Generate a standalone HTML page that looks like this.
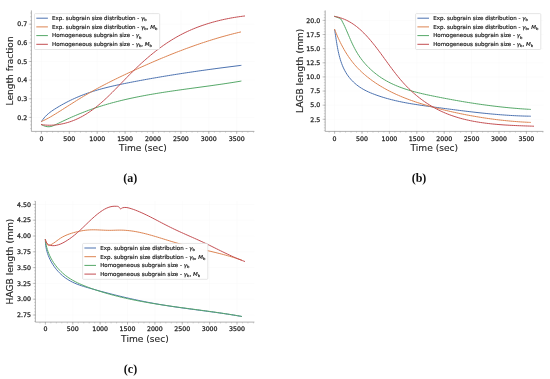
<!DOCTYPE html>
<html lang="en"><head><meta charset="utf-8"><title>Figure</title>
<style>
html,body{margin:0;padding:0;background:#ffffff;}
text{stroke:#262626;stroke-width:0.27px;}
text.lab{stroke-width:0.12px;}
text.leg{stroke-width:0.2px;}
text.cap{stroke:none;}
svg{display:block;font-family:"DejaVu Sans","Liberation Sans",sans-serif;}
</style></head>
<body>
<svg width="550" height="379" viewBox="0 0 550 379">
<rect width="550" height="379" fill="#ffffff"/>
<line x1="41.40" y1="10.4" x2="41.40" y2="131.4" stroke="#f8f8f8" stroke-width="0.5"/>
<line x1="69.30" y1="10.4" x2="69.30" y2="131.4" stroke="#f8f8f8" stroke-width="0.5"/>
<line x1="97.20" y1="10.4" x2="97.20" y2="131.4" stroke="#f8f8f8" stroke-width="0.5"/>
<line x1="125.10" y1="10.4" x2="125.10" y2="131.4" stroke="#f8f8f8" stroke-width="0.5"/>
<line x1="153.00" y1="10.4" x2="153.00" y2="131.4" stroke="#f8f8f8" stroke-width="0.5"/>
<line x1="180.90" y1="10.4" x2="180.90" y2="131.4" stroke="#f8f8f8" stroke-width="0.5"/>
<line x1="208.80" y1="10.4" x2="208.80" y2="131.4" stroke="#f8f8f8" stroke-width="0.5"/>
<line x1="236.70" y1="10.4" x2="236.70" y2="131.4" stroke="#f8f8f8" stroke-width="0.5"/>
<line x1="31.4" y1="24.20" x2="254.4" y2="24.20" stroke="#f8f8f8" stroke-width="0.5"/>
<line x1="31.4" y1="42.84" x2="254.4" y2="42.84" stroke="#f8f8f8" stroke-width="0.5"/>
<line x1="31.4" y1="61.48" x2="254.4" y2="61.48" stroke="#f8f8f8" stroke-width="0.5"/>
<line x1="31.4" y1="80.12" x2="254.4" y2="80.12" stroke="#f8f8f8" stroke-width="0.5"/>
<line x1="31.4" y1="98.76" x2="254.4" y2="98.76" stroke="#f8f8f8" stroke-width="0.5"/>
<line x1="31.4" y1="117.40" x2="254.4" y2="117.40" stroke="#f8f8f8" stroke-width="0.5"/>
<path d="M41.60,121.40 C41.80,121.09 42.41,120.15 42.83,119.56 C43.25,118.98 43.68,118.42 44.13,117.89 C44.57,117.35 45.02,116.84 45.48,116.36 C45.94,115.87 46.42,115.40 46.89,114.95 C47.37,114.50 47.86,114.07 48.36,113.66 C48.86,113.24 49.36,112.84 49.87,112.45 C50.38,112.06 50.90,111.68 51.43,111.31 C51.95,110.94 52.49,110.57 53.03,110.21 C53.56,109.85 54.11,109.50 54.66,109.15 C55.21,108.80 55.76,108.44 56.32,108.10 C56.88,107.75 57.45,107.40 58.02,107.06 C58.59,106.71 59.16,106.37 59.74,106.04 C60.32,105.70 60.91,105.36 61.49,105.03 C62.08,104.70 62.67,104.37 63.27,104.04 C63.86,103.71 64.46,103.39 65.06,103.07 C65.67,102.75 66.27,102.43 66.88,102.12 C67.49,101.80 68.10,101.49 68.72,101.18 C69.33,100.88 69.95,100.57 70.57,100.27 C71.19,99.97 71.81,99.68 72.44,99.38 C73.06,99.09 73.69,98.80 74.31,98.52 C74.94,98.23 75.57,97.95 76.20,97.68 C76.83,97.40 77.47,97.13 78.10,96.86 C78.73,96.59 79.37,96.33 80.00,96.07 C80.64,95.81 81.27,95.56 81.91,95.31 C82.54,95.06 83.18,94.81 83.82,94.57 C84.46,94.33 85.09,94.09 85.73,93.86 C86.37,93.62 87.01,93.39 87.65,93.17 C88.29,92.94 88.93,92.72 89.57,92.51 C90.21,92.29 90.86,92.07 91.50,91.86 C92.14,91.65 92.78,91.45 93.43,91.24 C94.07,91.04 94.71,90.84 95.36,90.65 C96.00,90.45 96.65,90.26 97.29,90.07 C97.94,89.88 98.59,89.69 99.23,89.51 C99.88,89.32 100.53,89.14 101.18,88.96 C101.82,88.78 102.47,88.61 103.12,88.44 C103.77,88.26 104.42,88.09 105.07,87.93 C105.72,87.76 106.37,87.60 107.02,87.43 C107.67,87.27 108.32,87.11 108.97,86.95 C109.63,86.79 110.28,86.64 110.93,86.48 C111.58,86.33 112.24,86.18 112.89,86.03 C113.54,85.88 114.20,85.73 114.85,85.59 C115.51,85.44 116.16,85.30 116.82,85.15 C117.47,85.01 118.13,84.87 118.79,84.73 C119.44,84.59 120.10,84.45 120.76,84.31 C121.41,84.18 122.07,84.04 122.73,83.91 C123.39,83.77 124.05,83.64 124.70,83.50 C125.36,83.37 126.02,83.24 126.68,83.11 C127.34,82.98 128.00,82.85 128.66,82.72 C129.32,82.59 129.98,82.46 130.64,82.33 C131.30,82.20 131.97,82.07 132.63,81.95 C133.29,81.82 133.95,81.69 134.61,81.57 C135.28,81.44 135.94,81.31 136.60,81.19 C137.26,81.06 137.93,80.94 138.59,80.82 C139.26,80.69 139.92,80.57 140.58,80.44 C141.25,80.32 141.91,80.20 142.58,80.08 C143.24,79.96 143.91,79.83 144.57,79.71 C145.24,79.59 145.90,79.47 146.57,79.35 C147.23,79.23 147.90,79.11 148.57,78.99 C149.23,78.87 149.90,78.76 150.57,78.64 C151.23,78.52 151.90,78.40 152.57,78.28 C153.24,78.17 153.90,78.05 154.57,77.94 C155.24,77.82 155.91,77.70 156.58,77.59 C157.24,77.47 157.91,77.36 158.58,77.25 C159.25,77.13 159.92,77.02 160.59,76.90 C161.26,76.79 161.93,76.68 162.59,76.57 C163.26,76.45 163.93,76.34 164.60,76.23 C165.27,76.12 165.94,76.01 166.61,75.90 C167.28,75.79 167.95,75.68 168.62,75.57 C169.29,75.46 169.96,75.35 170.63,75.24 C171.30,75.14 171.98,75.03 172.65,74.92 C173.32,74.81 173.99,74.71 174.66,74.60 C175.33,74.49 176.00,74.39 176.67,74.28 C177.34,74.18 178.01,74.07 178.69,73.97 C179.36,73.86 180.03,73.76 180.70,73.65 C181.37,73.55 182.04,73.45 182.71,73.34 C183.39,73.24 184.06,73.14 184.73,73.04 C185.40,72.93 186.07,72.83 186.74,72.73 C187.42,72.63 188.09,72.53 188.76,72.43 C189.43,72.33 190.10,72.23 190.77,72.13 C191.45,72.03 192.12,71.93 192.79,71.83 C193.46,71.73 194.13,71.63 194.81,71.54 C195.48,71.44 196.15,71.34 196.82,71.24 C197.49,71.15 198.16,71.05 198.84,70.95 C199.51,70.86 200.18,70.76 200.85,70.67 C201.52,70.57 202.19,70.48 202.87,70.38 C203.54,70.29 204.21,70.19 204.88,70.10 C205.55,70.01 206.22,69.91 206.89,69.82 C207.57,69.73 208.24,69.63 208.91,69.54 C209.58,69.45 210.25,69.36 210.92,69.27 C211.59,69.18 212.26,69.08 212.93,68.99 C213.60,68.90 214.27,68.81 214.94,68.72 C215.61,68.63 216.29,68.54 216.96,68.45 C217.63,68.37 218.30,68.28 218.97,68.19 C219.64,68.10 220.30,68.01 220.97,67.92 C221.64,67.84 222.31,67.75 222.98,67.66 C223.65,67.58 224.32,67.49 224.99,67.40 C225.66,67.32 226.33,67.23 227.00,67.15 C227.66,67.06 228.33,66.97 229.00,66.89 C229.67,66.80 230.34,66.72 231.00,66.64 C231.67,66.55 232.34,66.47 233.01,66.38 C233.67,66.30 234.34,66.22 235.01,66.14 C235.67,66.05 236.34,65.97 237.01,65.89 C237.67,65.81 238.34,65.72 239.00,65.64 C239.67,65.56 240.67,65.44 241.00,65.40" fill="none" stroke="#4c72b0" stroke-width="1.0" stroke-linecap="round" stroke-linejoin="round"/>
<path d="M41.60,121.40 C41.90,121.27 42.77,120.91 43.36,120.64 C43.95,120.38 44.53,120.10 45.12,119.81 C45.70,119.53 46.28,119.23 46.87,118.92 C47.45,118.61 48.04,118.29 48.62,117.97 C49.20,117.64 49.78,117.31 50.37,116.97 C50.95,116.64 51.53,116.29 52.11,115.95 C52.69,115.60 53.27,115.25 53.85,114.90 C54.43,114.54 55.02,114.19 55.60,113.83 C56.18,113.48 56.76,113.12 57.34,112.76 C57.92,112.40 58.50,112.03 59.08,111.67 C59.66,111.31 60.23,110.94 60.81,110.58 C61.39,110.21 61.97,109.84 62.55,109.47 C63.13,109.11 63.71,108.74 64.29,108.37 C64.87,108.00 65.45,107.63 66.03,107.26 C66.61,106.89 67.19,106.52 67.77,106.15 C68.35,105.78 68.93,105.40 69.51,105.03 C70.09,104.66 70.67,104.29 71.25,103.92 C71.83,103.56 72.41,103.19 72.99,102.82 C73.57,102.45 74.15,102.08 74.73,101.72 C75.32,101.35 75.90,100.99 76.48,100.62 C77.06,100.26 77.64,99.90 78.23,99.54 C78.81,99.18 79.39,98.82 79.98,98.46 C80.56,98.10 81.14,97.75 81.73,97.40 C82.31,97.04 82.90,96.69 83.48,96.34 C84.07,95.99 84.65,95.65 85.24,95.30 C85.83,94.96 86.41,94.61 87.00,94.27 C87.59,93.93 88.18,93.59 88.77,93.26 C89.35,92.92 89.94,92.58 90.53,92.25 C91.12,91.91 91.71,91.58 92.30,91.25 C92.89,90.92 93.48,90.59 94.07,90.26 C94.66,89.94 95.25,89.61 95.85,89.29 C96.44,88.96 97.03,88.64 97.62,88.32 C98.22,88.00 98.81,87.68 99.40,87.36 C100.00,87.04 100.59,86.73 101.19,86.41 C101.78,86.10 102.38,85.78 102.97,85.47 C103.57,85.16 104.16,84.85 104.76,84.54 C105.36,84.23 105.95,83.92 106.55,83.61 C107.15,83.31 107.75,83.00 108.35,82.70 C108.94,82.39 109.54,82.09 110.14,81.79 C110.74,81.49 111.34,81.18 111.94,80.89 C112.54,80.59 113.14,80.29 113.75,79.99 C114.35,79.69 114.95,79.40 115.55,79.10 C116.15,78.80 116.76,78.51 117.36,78.22 C117.96,77.92 118.57,77.63 119.17,77.34 C119.77,77.05 120.38,76.76 120.98,76.47 C121.59,76.18 122.20,75.89 122.80,75.60 C123.41,75.31 124.01,75.02 124.62,74.74 C125.23,74.45 125.84,74.17 126.44,73.88 C127.05,73.60 127.66,73.31 128.27,73.03 C128.88,72.74 129.49,72.46 130.10,72.18 C130.71,71.90 131.32,71.61 131.93,71.33 C132.54,71.05 133.15,70.77 133.77,70.49 C134.38,70.21 134.99,69.93 135.60,69.65 C136.22,69.37 136.83,69.09 137.44,68.82 C138.06,68.54 138.67,68.26 139.29,67.98 C139.90,67.70 140.52,67.43 141.13,67.15 C141.75,66.88 142.37,66.60 142.98,66.33 C143.60,66.05 144.22,65.78 144.84,65.50 C145.45,65.23 146.07,64.95 146.69,64.68 C147.31,64.41 147.93,64.14 148.55,63.87 C149.17,63.59 149.79,63.32 150.41,63.05 C151.03,62.78 151.65,62.51 152.27,62.25 C152.89,61.98 153.52,61.71 154.14,61.44 C154.76,61.17 155.38,60.91 156.01,60.64 C156.63,60.38 157.25,60.11 157.88,59.85 C158.50,59.58 159.13,59.32 159.75,59.06 C160.38,58.79 161.00,58.53 161.63,58.27 C162.26,58.01 162.88,57.75 163.51,57.49 C164.14,57.23 164.76,56.97 165.39,56.72 C166.02,56.46 166.65,56.20 167.28,55.94 C167.90,55.69 168.53,55.43 169.16,55.18 C169.79,54.93 170.42,54.67 171.05,54.42 C171.68,54.17 172.31,53.92 172.95,53.67 C173.58,53.42 174.21,53.17 174.84,52.92 C175.47,52.67 176.11,52.42 176.74,52.18 C177.37,51.93 178.00,51.68 178.64,51.44 C179.27,51.20 179.91,50.95 180.54,50.71 C181.17,50.47 181.81,50.23 182.44,49.99 C183.08,49.75 183.72,49.51 184.35,49.27 C184.99,49.03 185.62,48.80 186.26,48.56 C186.90,48.33 187.54,48.09 188.17,47.86 C188.81,47.62 189.45,47.39 190.09,47.16 C190.73,46.93 191.36,46.70 192.00,46.47 C192.64,46.24 193.28,46.02 193.92,45.79 C194.56,45.56 195.20,45.34 195.84,45.12 C196.48,44.89 197.13,44.67 197.77,44.45 C198.41,44.23 199.05,44.01 199.69,43.79 C200.33,43.57 200.98,43.36 201.62,43.14 C202.26,42.92 202.91,42.71 203.55,42.50 C204.19,42.28 204.84,42.07 205.48,41.86 C206.13,41.65 206.77,41.44 207.42,41.24 C208.06,41.03 208.71,40.82 209.35,40.62 C210.00,40.41 210.64,40.21 211.29,40.01 C211.94,39.81 212.58,39.61 213.23,39.41 C213.88,39.21 214.53,39.01 215.17,38.82 C215.82,38.62 216.47,38.43 217.12,38.23 C217.77,38.04 218.41,37.85 219.06,37.66 C219.71,37.47 220.36,37.28 221.01,37.09 C221.66,36.91 222.31,36.72 222.96,36.54 C223.61,36.36 224.26,36.18 224.92,36.00 C225.57,35.82 226.22,35.64 226.87,35.46 C227.52,35.28 228.17,35.11 228.83,34.93 C229.48,34.76 230.13,34.59 230.78,34.42 C231.44,34.25 232.09,34.08 232.74,33.91 C233.40,33.75 234.05,33.58 234.70,33.42 C235.36,33.26 236.01,33.10 236.67,32.94 C237.32,32.78 237.98,32.62 238.63,32.46 C239.29,32.31 240.27,32.08 240.60,32.00" fill="none" stroke="#dd8452" stroke-width="1.0" stroke-linecap="round" stroke-linejoin="round"/>
<path d="M41.40,124.60 C41.72,124.76 42.68,125.28 43.31,125.56 C43.95,125.84 44.59,126.07 45.22,126.26 C45.86,126.44 46.49,126.58 47.12,126.66 C47.75,126.74 48.39,126.78 49.02,126.75 C49.65,126.73 50.28,126.64 50.91,126.51 C51.54,126.37 52.17,126.16 52.80,125.93 C53.43,125.70 54.05,125.41 54.68,125.12 C55.31,124.84 55.93,124.52 56.56,124.21 C57.19,123.91 57.81,123.60 58.44,123.29 C59.06,122.99 59.69,122.69 60.31,122.39 C60.94,122.09 61.56,121.79 62.19,121.49 C62.81,121.20 63.43,120.90 64.06,120.61 C64.68,120.32 65.30,120.03 65.93,119.74 C66.55,119.45 67.17,119.17 67.80,118.88 C68.42,118.60 69.04,118.32 69.67,118.04 C70.29,117.76 70.91,117.49 71.53,117.21 C72.16,116.94 72.78,116.67 73.40,116.40 C74.03,116.13 74.65,115.86 75.27,115.59 C75.90,115.33 76.52,115.06 77.15,114.80 C77.77,114.54 78.39,114.28 79.02,114.03 C79.64,113.77 80.27,113.52 80.89,113.27 C81.52,113.02 82.14,112.77 82.77,112.52 C83.40,112.27 84.02,112.03 84.65,111.79 C85.28,111.55 85.91,111.31 86.54,111.07 C87.17,110.83 87.79,110.60 88.42,110.37 C89.05,110.14 89.69,109.91 90.32,109.68 C90.95,109.45 91.58,109.23 92.21,109.01 C92.85,108.78 93.48,108.57 94.11,108.35 C94.75,108.13 95.38,107.92 96.02,107.70 C96.66,107.49 97.29,107.28 97.93,107.08 C98.57,106.87 99.21,106.66 99.85,106.46 C100.48,106.26 101.12,106.06 101.76,105.86 C102.40,105.66 103.04,105.46 103.69,105.27 C104.33,105.07 104.97,104.88 105.61,104.69 C106.26,104.50 106.90,104.32 107.54,104.13 C108.19,103.95 108.83,103.76 109.48,103.58 C110.12,103.40 110.77,103.22 111.42,103.04 C112.06,102.87 112.71,102.69 113.36,102.52 C114.01,102.34 114.65,102.17 115.30,102.00 C115.95,101.83 116.60,101.67 117.25,101.50 C117.90,101.33 118.55,101.17 119.20,101.01 C119.85,100.85 120.51,100.69 121.16,100.53 C121.81,100.37 122.46,100.21 123.12,100.06 C123.77,99.90 124.42,99.75 125.08,99.60 C125.73,99.45 126.39,99.30 127.04,99.15 C127.70,99.00 128.35,98.85 129.01,98.71 C129.67,98.56 130.32,98.42 130.98,98.28 C131.64,98.14 132.30,98.00 132.95,97.86 C133.61,97.72 134.27,97.58 134.93,97.44 C135.59,97.31 136.25,97.17 136.91,97.04 C137.57,96.91 138.23,96.78 138.89,96.65 C139.55,96.51 140.21,96.39 140.87,96.26 C141.53,96.13 142.19,96.00 142.86,95.88 C143.52,95.75 144.18,95.63 144.84,95.51 C145.51,95.38 146.17,95.26 146.83,95.14 C147.50,95.02 148.16,94.90 148.82,94.78 C149.49,94.67 150.15,94.55 150.82,94.43 C151.48,94.32 152.15,94.20 152.81,94.09 C153.48,93.98 154.14,93.86 154.81,93.75 C155.47,93.64 156.14,93.53 156.81,93.42 C157.47,93.31 158.14,93.20 158.81,93.09 C159.47,92.98 160.14,92.88 160.81,92.77 C161.48,92.66 162.14,92.56 162.81,92.45 C163.48,92.35 164.15,92.25 164.82,92.14 C165.48,92.04 166.15,91.94 166.82,91.84 C167.49,91.73 168.16,91.63 168.83,91.53 C169.50,91.43 170.16,91.33 170.83,91.23 C171.50,91.14 172.17,91.04 172.84,90.94 C173.51,90.84 174.18,90.74 174.85,90.65 C175.52,90.55 176.19,90.45 176.86,90.36 C177.53,90.26 178.20,90.17 178.87,90.07 C179.54,89.98 180.21,89.88 180.88,89.79 C181.55,89.70 182.22,89.60 182.89,89.51 C183.56,89.41 184.23,89.32 184.90,89.23 C185.58,89.14 186.25,89.04 186.92,88.95 C187.59,88.86 188.26,88.77 188.93,88.68 C189.60,88.58 190.27,88.49 190.94,88.40 C191.61,88.31 192.28,88.22 192.95,88.13 C193.62,88.04 194.29,87.95 194.96,87.85 C195.63,87.76 196.31,87.67 196.98,87.58 C197.65,87.49 198.32,87.40 198.99,87.31 C199.66,87.22 200.33,87.13 201.00,87.04 C201.67,86.94 202.34,86.85 203.01,86.76 C203.68,86.67 204.35,86.58 205.02,86.49 C205.69,86.40 206.36,86.30 207.03,86.21 C207.70,86.12 208.37,86.03 209.04,85.94 C209.71,85.84 210.38,85.75 211.05,85.66 C211.71,85.56 212.38,85.47 213.05,85.38 C213.72,85.28 214.39,85.19 215.06,85.09 C215.73,85.00 216.39,84.90 217.06,84.81 C217.73,84.71 218.40,84.62 219.07,84.52 C219.73,84.43 220.40,84.33 221.07,84.23 C221.74,84.13 222.40,84.04 223.07,83.94 C223.74,83.84 224.40,83.74 225.07,83.64 C225.73,83.54 226.40,83.44 227.07,83.34 C227.73,83.24 228.40,83.14 229.06,83.03 C229.73,82.93 230.39,82.83 231.06,82.72 C231.72,82.62 232.39,82.51 233.05,82.41 C233.71,82.30 234.38,82.20 235.04,82.09 C235.70,81.98 236.37,81.87 237.03,81.77 C237.69,81.66 238.35,81.55 239.02,81.44 C239.68,81.32 240.67,81.16 241.00,81.10" fill="none" stroke="#55a868" stroke-width="1.0" stroke-linecap="round" stroke-linejoin="round"/>
<path d="M41.40,124.60 C41.73,124.65 42.74,124.80 43.41,124.88 C44.09,124.96 44.76,125.03 45.44,125.08 C46.12,125.13 46.80,125.17 47.48,125.20 C48.16,125.22 48.84,125.24 49.53,125.24 C50.21,125.24 50.89,125.23 51.58,125.20 C52.26,125.18 52.94,125.14 53.63,125.09 C54.31,125.05 54.99,124.99 55.68,124.92 C56.36,124.84 57.04,124.76 57.72,124.67 C58.40,124.58 59.08,124.47 59.75,124.36 C60.43,124.24 61.10,124.12 61.77,123.98 C62.44,123.84 63.11,123.70 63.78,123.54 C64.44,123.39 65.11,123.22 65.76,123.04 C66.42,122.87 67.08,122.68 67.73,122.49 C68.38,122.30 69.03,122.09 69.67,121.88 C70.31,121.67 70.95,121.45 71.58,121.22 C72.21,120.99 72.84,120.75 73.46,120.51 C74.08,120.26 74.70,120.01 75.31,119.75 C75.93,119.49 76.53,119.22 77.14,118.94 C77.74,118.66 78.34,118.38 78.94,118.08 C79.53,117.79 80.12,117.49 80.71,117.19 C81.30,116.88 81.88,116.57 82.46,116.25 C83.04,115.93 83.61,115.60 84.18,115.26 C84.75,114.93 85.32,114.59 85.88,114.24 C86.45,113.90 87.01,113.54 87.57,113.18 C88.12,112.82 88.67,112.46 89.22,112.09 C89.77,111.72 90.32,111.34 90.86,110.96 C91.41,110.58 91.95,110.19 92.48,109.80 C93.02,109.40 93.56,109.01 94.09,108.60 C94.62,108.20 95.15,107.79 95.67,107.38 C96.20,106.97 96.72,106.55 97.24,106.13 C97.76,105.71 98.28,105.28 98.79,104.85 C99.31,104.42 99.82,103.98 100.33,103.54 C100.84,103.11 101.35,102.66 101.86,102.22 C102.37,101.77 102.87,101.32 103.37,100.87 C103.87,100.42 104.37,99.96 104.87,99.50 C105.37,99.04 105.87,98.58 106.36,98.11 C106.86,97.65 107.35,97.18 107.85,96.71 C108.34,96.24 108.83,95.76 109.32,95.29 C109.81,94.81 110.30,94.33 110.78,93.85 C111.27,93.37 111.76,92.89 112.24,92.41 C112.73,91.93 113.21,91.44 113.69,90.95 C114.18,90.47 114.66,89.98 115.14,89.49 C115.62,89.00 116.10,88.51 116.58,88.01 C117.06,87.52 117.54,87.03 118.02,86.54 C118.50,86.04 118.98,85.55 119.46,85.05 C119.94,84.56 120.42,84.06 120.90,83.57 C121.38,83.07 121.85,82.58 122.33,82.08 C122.81,81.59 123.29,81.09 123.77,80.60 C124.25,80.10 124.73,79.61 125.21,79.11 C125.69,78.62 126.17,78.12 126.65,77.63 C127.13,77.14 127.61,76.65 128.09,76.16 C128.58,75.67 129.06,75.18 129.54,74.69 C130.03,74.20 130.51,73.72 131.00,73.23 C131.48,72.75 131.97,72.26 132.46,71.78 C132.94,71.30 133.43,70.82 133.92,70.34 C134.41,69.86 134.90,69.39 135.39,68.91 C135.89,68.44 136.38,67.97 136.87,67.50 C137.37,67.02 137.86,66.56 138.36,66.09 C138.85,65.62 139.35,65.16 139.85,64.69 C140.35,64.23 140.85,63.77 141.35,63.31 C141.85,62.85 142.36,62.40 142.86,61.94 C143.37,61.49 143.87,61.03 144.38,60.58 C144.89,60.13 145.39,59.69 145.91,59.24 C146.42,58.79 146.93,58.35 147.44,57.91 C147.95,57.47 148.47,57.03 148.98,56.59 C149.50,56.16 150.02,55.73 150.54,55.29 C151.06,54.86 151.58,54.43 152.10,54.01 C152.62,53.58 153.15,53.16 153.67,52.74 C154.20,52.32 154.73,51.90 155.26,51.49 C155.79,51.07 156.32,50.66 156.85,50.25 C157.38,49.84 157.92,49.43 158.46,49.03 C158.99,48.63 159.53,48.23 160.07,47.83 C160.61,47.43 161.16,47.03 161.70,46.64 C162.25,46.25 162.79,45.86 163.34,45.48 C163.89,45.09 164.44,44.71 164.99,44.33 C165.55,43.95 166.10,43.57 166.66,43.20 C167.21,42.83 167.77,42.46 168.34,42.09 C168.90,41.73 169.46,41.36 170.03,41.01 C170.59,40.65 171.16,40.29 171.73,39.94 C172.30,39.59 172.87,39.24 173.45,38.89 C174.02,38.55 174.60,38.20 175.18,37.87 C175.76,37.53 176.34,37.19 176.92,36.86 C177.51,36.53 178.10,36.21 178.68,35.88 C179.27,35.56 179.87,35.24 180.46,34.92 C181.05,34.61 181.65,34.30 182.25,33.99 C182.85,33.68 183.45,33.38 184.06,33.08 C184.66,32.78 185.27,32.48 185.88,32.19 C186.49,31.90 187.10,31.61 187.71,31.33 C188.33,31.04 188.95,30.76 189.57,30.49 C190.19,30.21 190.81,29.94 191.43,29.67 C192.06,29.41 192.68,29.14 193.31,28.88 C193.94,28.62 194.57,28.37 195.20,28.11 C195.84,27.86 196.47,27.61 197.11,27.37 C197.74,27.12 198.38,26.88 199.02,26.65 C199.66,26.41 200.31,26.18 200.95,25.95 C201.59,25.72 202.24,25.49 202.89,25.27 C203.53,25.05 204.18,24.83 204.83,24.62 C205.48,24.40 206.13,24.19 206.78,23.99 C207.44,23.78 208.09,23.58 208.75,23.38 C209.40,23.18 210.06,22.98 210.71,22.79 C211.37,22.60 212.03,22.41 212.69,22.22 C213.35,22.04 214.01,21.86 214.67,21.68 C215.33,21.50 215.99,21.33 216.66,21.16 C217.32,20.99 217.98,20.82 218.65,20.66 C219.31,20.49 219.98,20.33 220.64,20.18 C221.31,20.02 221.97,19.87 222.64,19.72 C223.30,19.57 223.97,19.42 224.64,19.28 C225.30,19.14 225.97,19.00 226.64,18.86 C227.31,18.73 227.97,18.60 228.64,18.47 C229.31,18.34 229.97,18.21 230.64,18.09 C231.31,17.97 231.98,17.85 232.64,17.73 C233.31,17.62 233.98,17.50 234.64,17.40 C235.31,17.29 235.98,17.18 236.64,17.08 C237.31,16.98 237.97,16.88 238.64,16.78 C239.30,16.68 239.96,16.59 240.63,16.50 C241.29,16.41 241.95,16.32 242.62,16.24 C243.28,16.16 244.27,16.04 244.60,16.00" fill="none" stroke="#c44e52" stroke-width="1.0" stroke-linecap="round" stroke-linejoin="round"/>
<path d="M31.4,10.4 V131.4 H254.4" fill="none" stroke="#808080" stroke-width="0.62"/>
<path d="M35.82,131.4 v1.4 M41.40,131.4 v1.4 M46.98,131.4 v1.4 M52.56,131.4 v1.4 M58.14,131.4 v1.4 M63.72,131.4 v1.4 M69.30,131.4 v1.4 M74.88,131.4 v1.4 M80.46,131.4 v1.4 M86.04,131.4 v1.4 M91.62,131.4 v1.4 M97.20,131.4 v1.4 M102.78,131.4 v1.4 M108.36,131.4 v1.4 M113.94,131.4 v1.4 M119.52,131.4 v1.4 M125.10,131.4 v1.4 M130.68,131.4 v1.4 M136.26,131.4 v1.4 M141.84,131.4 v1.4 M147.42,131.4 v1.4 M153.00,131.4 v1.4 M158.58,131.4 v1.4 M164.16,131.4 v1.4 M169.74,131.4 v1.4 M175.32,131.4 v1.4 M180.90,131.4 v1.4 M186.48,131.4 v1.4 M192.06,131.4 v1.4 M197.64,131.4 v1.4 M203.22,131.4 v1.4 M208.80,131.4 v1.4 M214.38,131.4 v1.4 M219.96,131.4 v1.4 M225.54,131.4 v1.4 M231.12,131.4 v1.4 M236.70,131.4 v1.4 M242.28,131.4 v1.4 M247.86,131.4 v1.4 M253.44,131.4 v1.4 M31.4,128.58 h-1.4 M31.4,124.86 h-1.4 M31.4,121.13 h-1.4 M31.4,117.40 h-1.4 M31.4,113.67 h-1.4 M31.4,109.94 h-1.4 M31.4,106.22 h-1.4 M31.4,102.49 h-1.4 M31.4,98.76 h-1.4 M31.4,95.03 h-1.4 M31.4,91.30 h-1.4 M31.4,87.58 h-1.4 M31.4,83.85 h-1.4 M31.4,80.12 h-1.4 M31.4,76.39 h-1.4 M31.4,72.66 h-1.4 M31.4,68.94 h-1.4 M31.4,65.21 h-1.4 M31.4,61.48 h-1.4 M31.4,57.75 h-1.4 M31.4,54.02 h-1.4 M31.4,50.30 h-1.4 M31.4,46.57 h-1.4 M31.4,42.84 h-1.4 M31.4,39.11 h-1.4 M31.4,35.38 h-1.4 M31.4,31.66 h-1.4 M31.4,27.93 h-1.4 M31.4,24.20 h-1.4 M31.4,20.47 h-1.4 M31.4,16.74 h-1.4 M31.4,13.02 h-1.4" stroke="#8c8c8c" stroke-width="0.32" fill="none"/>
<text x="41.40" y="141.30" text-anchor="middle" font-size="6.25" fill="#262626">0</text>
<text x="69.30" y="141.30" text-anchor="middle" font-size="6.25" fill="#262626">500</text>
<text x="97.20" y="141.30" text-anchor="middle" font-size="6.25" fill="#262626">1000</text>
<text x="125.10" y="141.30" text-anchor="middle" font-size="6.25" fill="#262626">1500</text>
<text x="153.00" y="141.30" text-anchor="middle" font-size="6.25" fill="#262626">2000</text>
<text x="180.90" y="141.30" text-anchor="middle" font-size="6.25" fill="#262626">2500</text>
<text x="208.80" y="141.30" text-anchor="middle" font-size="6.25" fill="#262626">3000</text>
<text x="236.70" y="141.30" text-anchor="middle" font-size="6.25" fill="#262626">3500</text>
<text x="27.20" y="26.40" text-anchor="end" font-size="6.25" fill="#262626">0.7</text>
<text x="27.20" y="45.04" text-anchor="end" font-size="6.25" fill="#262626">0.6</text>
<text x="27.20" y="63.68" text-anchor="end" font-size="6.25" fill="#262626">0.5</text>
<text x="27.20" y="82.32" text-anchor="end" font-size="6.25" fill="#262626">0.4</text>
<text x="27.20" y="100.96" text-anchor="end" font-size="6.25" fill="#262626">0.3</text>
<text x="27.20" y="119.60" text-anchor="end" font-size="6.25" fill="#262626">0.2</text>
<path d="M41.40,131.4 v2.6 M69.30,131.4 v2.6 M97.20,131.4 v2.6 M125.10,131.4 v2.6 M153.00,131.4 v2.6 M180.90,131.4 v2.6 M208.80,131.4 v2.6 M236.70,131.4 v2.6 M31.4,24.20 h-2.6 M31.4,42.84 h-2.6 M31.4,61.48 h-2.6 M31.4,80.12 h-2.6 M31.4,98.76 h-2.6 M31.4,117.40 h-2.6" stroke="#808080" stroke-width="0.42" fill="none"/>
<text x="142.90" y="151" text-anchor="middle" class="lab" font-size="9.1" fill="#262626">Time (sec)</text>
<text transform="translate(12.9,70.90) rotate(-90)" text-anchor="middle" class="lab" font-size="9.1" fill="#262626">Length fraction</text>
<rect x="34.5" y="13.6" width="125.2" height="35.9" rx="1" ry="1" fill="#ffffff" fill-opacity="0.97" stroke="#cccccc" stroke-width="0.5"/>
<line x1="36.30" y1="18.20" x2="47.90" y2="18.20" stroke="#4c72b0" stroke-width="1.0"/>
<text x="52.10" y="20.00" class="leg" font-size="5.52" fill="#262626">Exp. subgrain size distribution - <tspan font-style="italic">γ</tspan><tspan font-size="3.75" dy="1.1">b</tspan></text>
<line x1="36.30" y1="26.90" x2="47.90" y2="26.90" stroke="#dd8452" stroke-width="1.0"/>
<text x="52.10" y="28.70" class="leg" font-size="5.52" fill="#262626">Exp. subgrain size distribution - <tspan font-style="italic">γ</tspan><tspan font-size="3.75" dy="1.1">b</tspan><tspan dy="-1.1">, </tspan><tspan font-style="italic">M</tspan><tspan font-size="3.75" dy="1.1">b</tspan></text>
<line x1="36.30" y1="35.60" x2="47.90" y2="35.60" stroke="#55a868" stroke-width="1.0"/>
<text x="52.10" y="37.40" class="leg" font-size="5.52" fill="#262626">Homogeneous subgrain size - <tspan font-style="italic">γ</tspan><tspan font-size="3.75" dy="1.1">b</tspan></text>
<line x1="36.30" y1="44.30" x2="47.90" y2="44.30" stroke="#c44e52" stroke-width="1.0"/>
<text x="52.10" y="46.10" class="leg" font-size="5.52" fill="#262626">Homogeneous subgrain size - <tspan font-style="italic">γ</tspan><tspan font-size="3.75" dy="1.1">b</tspan><tspan dy="-1.1">, </tspan><tspan font-style="italic">M</tspan><tspan font-size="3.75" dy="1.1">b</tspan></text>
<text x="130.2" y="182" text-anchor="middle" font-family="'Liberation Serif', serif" font-weight="bold" font-size="12" fill="#111" class="cap">(a)</text>
<line x1="334.60" y1="10.4" x2="334.60" y2="131.4" stroke="#f8f8f8" stroke-width="0.5"/>
<line x1="362.00" y1="10.4" x2="362.00" y2="131.4" stroke="#f8f8f8" stroke-width="0.5"/>
<line x1="389.40" y1="10.4" x2="389.40" y2="131.4" stroke="#f8f8f8" stroke-width="0.5"/>
<line x1="416.80" y1="10.4" x2="416.80" y2="131.4" stroke="#f8f8f8" stroke-width="0.5"/>
<line x1="444.20" y1="10.4" x2="444.20" y2="131.4" stroke="#f8f8f8" stroke-width="0.5"/>
<line x1="471.60" y1="10.4" x2="471.60" y2="131.4" stroke="#f8f8f8" stroke-width="0.5"/>
<line x1="499.00" y1="10.4" x2="499.00" y2="131.4" stroke="#f8f8f8" stroke-width="0.5"/>
<line x1="526.40" y1="10.4" x2="526.40" y2="131.4" stroke="#f8f8f8" stroke-width="0.5"/>
<line x1="325.2" y1="20.40" x2="543.4" y2="20.40" stroke="#f8f8f8" stroke-width="0.5"/>
<line x1="325.2" y1="34.53" x2="543.4" y2="34.53" stroke="#f8f8f8" stroke-width="0.5"/>
<line x1="325.2" y1="48.66" x2="543.4" y2="48.66" stroke="#f8f8f8" stroke-width="0.5"/>
<line x1="325.2" y1="62.79" x2="543.4" y2="62.79" stroke="#f8f8f8" stroke-width="0.5"/>
<line x1="325.2" y1="76.92" x2="543.4" y2="76.92" stroke="#f8f8f8" stroke-width="0.5"/>
<line x1="325.2" y1="91.05" x2="543.4" y2="91.05" stroke="#f8f8f8" stroke-width="0.5"/>
<line x1="325.2" y1="105.18" x2="543.4" y2="105.18" stroke="#f8f8f8" stroke-width="0.5"/>
<line x1="325.2" y1="119.31" x2="543.4" y2="119.31" stroke="#f8f8f8" stroke-width="0.5"/>
<path d="M334.60,29.50 C334.65,29.82 334.81,30.77 334.91,31.42 C335.01,32.06 335.11,32.71 335.21,33.36 C335.31,34.01 335.41,34.66 335.51,35.32 C335.61,35.98 335.71,36.64 335.81,37.31 C335.91,37.97 336.01,38.64 336.11,39.31 C336.22,39.98 336.32,40.65 336.43,41.32 C336.53,42.00 336.64,42.67 336.75,43.35 C336.86,44.02 336.98,44.70 337.09,45.38 C337.21,46.05 337.33,46.73 337.46,47.41 C337.58,48.08 337.71,48.76 337.84,49.44 C337.98,50.11 338.12,50.79 338.26,51.46 C338.41,52.14 338.55,52.81 338.71,53.48 C338.87,54.15 339.03,54.82 339.20,55.49 C339.36,56.16 339.54,56.82 339.72,57.49 C339.90,58.15 340.09,58.81 340.29,59.46 C340.49,60.12 340.69,60.77 340.91,61.42 C341.12,62.06 341.35,62.71 341.58,63.35 C341.81,63.99 342.05,64.62 342.31,65.25 C342.56,65.88 342.82,66.50 343.09,67.12 C343.37,67.74 343.65,68.35 343.95,68.96 C344.24,69.56 344.55,70.16 344.86,70.75 C345.18,71.35 345.51,71.93 345.86,72.51 C346.20,73.09 346.55,73.66 346.92,74.22 C347.29,74.78 347.67,75.34 348.07,75.88 C348.47,76.43 348.88,76.97 349.30,77.49 C349.72,78.02 350.15,78.54 350.60,79.05 C351.05,79.56 351.50,80.06 351.97,80.55 C352.44,81.04 352.92,81.52 353.41,81.99 C353.90,82.46 354.40,82.92 354.91,83.37 C355.42,83.82 355.94,84.26 356.47,84.68 C357.00,85.11 357.54,85.53 358.08,85.93 C358.63,86.33 359.18,86.73 359.75,87.11 C360.31,87.49 360.88,87.86 361.45,88.21 C362.02,88.57 362.61,88.91 363.19,89.25 C363.78,89.58 364.38,89.90 364.97,90.22 C365.57,90.53 366.18,90.83 366.78,91.13 C367.39,91.42 368.01,91.71 368.62,91.99 C369.24,92.27 369.86,92.54 370.48,92.80 C371.10,93.06 371.73,93.32 372.36,93.57 C372.98,93.82 373.61,94.06 374.25,94.30 C374.88,94.54 375.51,94.77 376.14,95.00 C376.78,95.23 377.41,95.46 378.05,95.68 C378.68,95.90 379.32,96.11 379.96,96.32 C380.59,96.53 381.23,96.74 381.87,96.94 C382.51,97.14 383.15,97.34 383.79,97.54 C384.43,97.73 385.08,97.92 385.72,98.11 C386.36,98.29 387.01,98.48 387.65,98.65 C388.29,98.83 388.94,99.01 389.59,99.18 C390.23,99.35 390.88,99.52 391.53,99.68 C392.18,99.85 392.83,100.01 393.48,100.16 C394.13,100.32 394.78,100.48 395.43,100.63 C396.08,100.78 396.73,100.93 397.39,101.07 C398.04,101.22 398.69,101.36 399.35,101.50 C400.00,101.64 400.66,101.77 401.31,101.91 C401.97,102.04 402.62,102.17 403.28,102.30 C403.94,102.43 404.60,102.56 405.26,102.68 C405.92,102.81 406.57,102.93 407.23,103.05 C407.90,103.17 408.56,103.29 409.22,103.40 C409.88,103.52 410.54,103.63 411.20,103.74 C411.87,103.85 412.53,103.96 413.19,104.07 C413.86,104.18 414.52,104.29 415.19,104.39 C415.85,104.50 416.52,104.60 417.18,104.70 C417.85,104.81 418.52,104.91 419.18,105.01 C419.85,105.11 420.52,105.20 421.19,105.30 C421.85,105.40 422.52,105.50 423.19,105.59 C423.86,105.69 424.53,105.78 425.20,105.87 C425.87,105.97 426.54,106.06 427.21,106.15 C427.88,106.25 428.56,106.34 429.23,106.43 C429.90,106.52 430.57,106.61 431.24,106.70 C431.92,106.79 432.59,106.89 433.26,106.98 C433.94,107.07 434.61,107.16 435.29,107.25 C435.96,107.34 436.63,107.43 437.31,107.52 C437.98,107.61 438.66,107.70 439.33,107.79 C440.01,107.88 440.69,107.97 441.36,108.06 C442.04,108.15 442.71,108.24 443.39,108.33 C444.07,108.42 444.74,108.51 445.42,108.60 C446.10,108.69 446.78,108.78 447.45,108.87 C448.13,108.96 448.81,109.05 449.49,109.13 C450.16,109.22 450.84,109.31 451.52,109.40 C452.20,109.49 452.88,109.58 453.56,109.66 C454.24,109.75 454.91,109.84 455.59,109.92 C456.27,110.01 456.95,110.10 457.63,110.18 C458.31,110.27 458.99,110.36 459.67,110.44 C460.35,110.53 461.03,110.61 461.71,110.70 C462.39,110.78 463.07,110.86 463.75,110.95 C464.43,111.03 465.11,111.11 465.79,111.20 C466.47,111.28 467.15,111.36 467.83,111.44 C468.51,111.52 469.18,111.60 469.86,111.68 C470.54,111.76 471.22,111.84 471.90,111.92 C472.58,112.00 473.26,112.08 473.94,112.15 C474.62,112.23 475.30,112.31 475.98,112.38 C476.66,112.46 477.34,112.54 478.02,112.61 C478.70,112.68 479.38,112.76 480.06,112.83 C480.74,112.90 481.41,112.98 482.09,113.05 C482.77,113.12 483.45,113.19 484.13,113.26 C484.81,113.33 485.49,113.40 486.16,113.46 C486.84,113.53 487.52,113.60 488.20,113.66 C488.88,113.73 489.55,113.79 490.23,113.86 C490.91,113.92 491.58,113.98 492.26,114.05 C492.94,114.11 493.61,114.17 494.29,114.23 C494.97,114.29 495.64,114.35 496.32,114.40 C496.99,114.46 497.67,114.52 498.34,114.57 C499.02,114.63 499.69,114.68 500.37,114.74 C501.04,114.79 501.71,114.84 502.39,114.89 C503.06,114.94 503.74,114.99 504.41,115.04 C505.08,115.09 505.75,115.13 506.42,115.18 C507.10,115.22 507.77,115.27 508.44,115.31 C509.11,115.36 509.78,115.40 510.45,115.44 C511.12,115.48 511.79,115.52 512.46,115.55 C513.13,115.59 513.80,115.63 514.47,115.66 C515.14,115.70 515.80,115.73 516.47,115.76 C517.14,115.79 517.80,115.82 518.47,115.85 C519.14,115.88 519.80,115.91 520.47,115.93 C521.13,115.96 521.80,115.98 522.46,116.01 C523.13,116.03 523.79,116.05 524.45,116.07 C525.11,116.09 525.78,116.11 526.44,116.12 C527.10,116.14 527.76,116.15 528.42,116.17 C529.08,116.18 530.07,116.19 530.40,116.20" fill="none" stroke="#4c72b0" stroke-width="1.0" stroke-linecap="round" stroke-linejoin="round"/>
<path d="M334.60,29.40 C334.73,29.71 335.10,30.66 335.35,31.29 C335.61,31.92 335.87,32.55 336.13,33.17 C336.39,33.80 336.65,34.42 336.92,35.04 C337.19,35.67 337.46,36.29 337.73,36.91 C338.01,37.52 338.28,38.14 338.57,38.76 C338.85,39.37 339.14,39.98 339.43,40.59 C339.72,41.20 340.01,41.81 340.31,42.42 C340.61,43.02 340.91,43.62 341.21,44.22 C341.52,44.82 341.83,45.42 342.15,46.02 C342.46,46.61 342.78,47.20 343.11,47.79 C343.43,48.38 343.76,48.97 344.09,49.55 C344.43,50.13 344.76,50.71 345.11,51.29 C345.45,51.86 345.80,52.44 346.15,53.00 C346.51,53.57 346.86,54.14 347.23,54.70 C347.59,55.26 347.96,55.82 348.34,56.37 C348.71,56.93 349.09,57.48 349.47,58.02 C349.86,58.57 350.25,59.11 350.65,59.65 C351.04,60.19 351.45,60.72 351.85,61.25 C352.26,61.78 352.68,62.30 353.10,62.82 C353.52,63.34 353.94,63.85 354.37,64.36 C354.81,64.87 355.25,65.38 355.69,65.88 C356.13,66.38 356.59,66.88 357.04,67.37 C357.50,67.86 357.96,68.34 358.43,68.82 C358.90,69.30 359.37,69.78 359.85,70.25 C360.33,70.72 360.81,71.19 361.30,71.65 C361.79,72.11 362.29,72.57 362.79,73.02 C363.29,73.47 363.79,73.92 364.30,74.36 C364.81,74.80 365.32,75.24 365.84,75.67 C366.36,76.11 366.88,76.53 367.41,76.96 C367.94,77.38 368.47,77.80 369.00,78.21 C369.54,78.63 370.08,79.04 370.62,79.44 C371.16,79.85 371.71,80.25 372.26,80.64 C372.81,81.04 373.36,81.43 373.92,81.81 C374.47,82.20 375.03,82.58 375.60,82.96 C376.16,83.34 376.73,83.71 377.29,84.08 C377.86,84.44 378.43,84.81 379.01,85.17 C379.58,85.52 380.16,85.88 380.73,86.23 C381.31,86.58 381.89,86.92 382.47,87.26 C383.06,87.60 383.64,87.94 384.23,88.27 C384.81,88.60 385.40,88.93 385.99,89.25 C386.58,89.58 387.17,89.89 387.76,90.21 C388.35,90.52 388.95,90.83 389.54,91.14 C390.14,91.44 390.74,91.74 391.33,92.04 C391.93,92.34 392.53,92.63 393.13,92.92 C393.74,93.21 394.34,93.50 394.94,93.78 C395.55,94.06 396.15,94.34 396.76,94.61 C397.37,94.89 397.98,95.16 398.59,95.42 C399.20,95.69 399.81,95.95 400.42,96.21 C401.03,96.47 401.65,96.73 402.26,96.98 C402.88,97.23 403.50,97.48 404.11,97.73 C404.73,97.98 405.35,98.22 405.97,98.46 C406.59,98.70 407.21,98.94 407.84,99.17 C408.46,99.40 409.08,99.64 409.71,99.86 C410.33,100.09 410.96,100.32 411.59,100.54 C412.22,100.76 412.84,100.98 413.47,101.20 C414.10,101.42 414.74,101.63 415.37,101.84 C416.00,102.05 416.63,102.26 417.27,102.47 C417.90,102.68 418.54,102.88 419.17,103.08 C419.81,103.29 420.45,103.49 421.09,103.69 C421.73,103.88 422.37,104.08 423.01,104.27 C423.65,104.47 424.29,104.66 424.93,104.85 C425.57,105.04 426.22,105.23 426.86,105.41 C427.50,105.60 428.15,105.78 428.80,105.96 C429.44,106.15 430.09,106.33 430.74,106.51 C431.38,106.69 432.03,106.86 432.68,107.04 C433.33,107.22 433.98,107.39 434.63,107.56 C435.28,107.74 435.94,107.91 436.59,108.08 C437.24,108.25 437.89,108.42 438.55,108.59 C439.20,108.76 439.86,108.92 440.51,109.09 C441.17,109.25 441.82,109.42 442.48,109.58 C443.14,109.74 443.80,109.91 444.45,110.07 C445.11,110.23 445.77,110.38 446.43,110.54 C447.09,110.70 447.75,110.85 448.41,111.01 C449.07,111.16 449.73,111.32 450.39,111.47 C451.06,111.62 451.72,111.77 452.38,111.92 C453.04,112.07 453.71,112.21 454.37,112.36 C455.03,112.51 455.70,112.65 456.36,112.79 C457.03,112.94 457.69,113.08 458.36,113.22 C459.02,113.36 459.69,113.50 460.35,113.64 C461.02,113.77 461.69,113.91 462.35,114.04 C463.02,114.18 463.69,114.31 464.36,114.44 C465.02,114.58 465.69,114.71 466.36,114.83 C467.03,114.96 467.70,115.09 468.37,115.22 C469.04,115.34 469.70,115.47 470.37,115.59 C471.04,115.71 471.71,115.83 472.38,115.95 C473.05,116.07 473.72,116.19 474.39,116.31 C475.06,116.43 475.73,116.54 476.40,116.65 C477.07,116.77 477.74,116.88 478.41,116.99 C479.09,117.10 479.76,117.21 480.43,117.32 C481.10,117.43 481.77,117.53 482.44,117.64 C483.11,117.74 483.78,117.85 484.45,117.95 C485.12,118.05 485.80,118.15 486.47,118.25 C487.14,118.35 487.81,118.44 488.48,118.54 C489.15,118.63 489.82,118.73 490.49,118.82 C491.16,118.91 491.83,119.00 492.50,119.09 C493.17,119.18 493.85,119.27 494.52,119.36 C495.19,119.44 495.86,119.53 496.53,119.61 C497.20,119.69 497.87,119.77 498.54,119.85 C499.21,119.93 499.88,120.01 500.54,120.09 C501.21,120.16 501.88,120.24 502.55,120.31 C503.22,120.38 503.89,120.45 504.56,120.52 C505.23,120.59 505.89,120.66 506.56,120.73 C507.23,120.79 507.90,120.86 508.56,120.92 C509.23,120.99 509.90,121.05 510.56,121.11 C511.23,121.17 511.89,121.23 512.56,121.28 C513.22,121.34 513.89,121.39 514.55,121.45 C515.22,121.50 515.88,121.55 516.55,121.60 C517.21,121.65 517.87,121.70 518.54,121.75 C519.20,121.79 519.86,121.84 520.52,121.88 C521.18,121.92 521.84,121.97 522.50,122.01 C523.16,122.05 523.82,122.08 524.48,122.12 C525.14,122.16 525.80,122.19 526.46,122.22 C527.12,122.26 527.77,122.29 528.43,122.32 C529.09,122.35 530.07,122.39 530.40,122.40" fill="none" stroke="#dd8452" stroke-width="1.0" stroke-linecap="round" stroke-linejoin="round"/>
<path d="M334.60,16.40 C335.17,16.60 336.93,17.13 338.00,17.60 C339.07,18.07 340.33,18.64 341.00,19.20 C341.67,19.76 341.67,20.39 341.99,20.99 C342.32,21.59 342.63,22.19 342.94,22.80 C343.25,23.40 343.55,24.01 343.85,24.62 C344.14,25.23 344.43,25.85 344.72,26.46 C345.00,27.07 345.29,27.69 345.56,28.31 C345.84,28.92 346.11,29.54 346.39,30.16 C346.66,30.78 346.93,31.40 347.19,32.02 C347.46,32.64 347.72,33.26 347.99,33.88 C348.25,34.50 348.52,35.12 348.78,35.74 C349.05,36.36 349.31,36.98 349.58,37.60 C349.85,38.22 350.11,38.84 350.38,39.45 C350.65,40.07 350.92,40.68 351.20,41.29 C351.47,41.91 351.75,42.52 352.03,43.13 C352.32,43.74 352.60,44.34 352.89,44.95 C353.18,45.55 353.47,46.15 353.77,46.75 C354.07,47.35 354.38,47.94 354.69,48.53 C355.00,49.12 355.31,49.71 355.64,50.29 C355.96,50.88 356.29,51.46 356.63,52.03 C356.96,52.61 357.31,53.18 357.66,53.74 C358.01,54.31 358.37,54.87 358.74,55.42 C359.11,55.98 359.48,56.53 359.87,57.08 C360.25,57.62 360.64,58.16 361.04,58.70 C361.43,59.24 361.84,59.77 362.25,60.29 C362.66,60.82 363.08,61.34 363.51,61.85 C363.93,62.36 364.36,62.87 364.80,63.38 C365.24,63.88 365.69,64.38 366.14,64.87 C366.59,65.36 367.05,65.85 367.51,66.33 C367.98,66.81 368.45,67.29 368.92,67.76 C369.40,68.23 369.88,68.69 370.37,69.15 C370.86,69.60 371.35,70.06 371.85,70.50 C372.35,70.95 372.86,71.39 373.37,71.82 C373.88,72.25 374.39,72.68 374.91,73.10 C375.43,73.52 375.96,73.93 376.49,74.34 C377.02,74.75 377.56,75.15 378.10,75.54 C378.64,75.94 379.18,76.33 379.73,76.71 C380.28,77.09 380.84,77.46 381.40,77.83 C381.96,78.20 382.52,78.56 383.09,78.91 C383.65,79.27 384.22,79.62 384.80,79.96 C385.37,80.30 385.95,80.63 386.53,80.95 C387.12,81.28 387.70,81.60 388.29,81.91 C388.88,82.23 389.48,82.53 390.07,82.83 C390.67,83.13 391.27,83.42 391.87,83.71 C392.48,84.00 393.08,84.28 393.69,84.56 C394.30,84.83 394.91,85.10 395.53,85.36 C396.15,85.63 396.76,85.89 397.39,86.14 C398.01,86.39 398.63,86.64 399.26,86.88 C399.88,87.12 400.51,87.36 401.14,87.59 C401.78,87.82 402.41,88.05 403.05,88.27 C403.68,88.50 404.32,88.71 404.96,88.93 C405.60,89.14 406.24,89.35 406.89,89.55 C407.53,89.76 408.18,89.96 408.83,90.16 C409.48,90.35 410.13,90.54 410.78,90.73 C411.43,90.92 412.08,91.11 412.74,91.29 C413.39,91.47 414.05,91.65 414.70,91.82 C415.36,92.00 416.02,92.17 416.68,92.34 C417.34,92.51 418.00,92.68 418.66,92.84 C419.32,93.00 419.98,93.16 420.65,93.32 C421.31,93.48 421.97,93.63 422.64,93.79 C423.30,93.94 423.97,94.09 424.63,94.24 C425.30,94.39 425.97,94.53 426.63,94.68 C427.30,94.82 427.97,94.97 428.63,95.11 C429.30,95.25 429.97,95.39 430.63,95.53 C431.30,95.67 431.97,95.80 432.63,95.94 C433.30,96.08 433.97,96.21 434.63,96.35 C435.30,96.48 435.96,96.62 436.63,96.75 C437.29,96.88 437.96,97.01 438.62,97.14 C439.29,97.28 439.95,97.41 440.62,97.54 C441.28,97.67 441.94,97.79 442.60,97.92 C443.27,98.05 443.93,98.18 444.59,98.31 C445.26,98.43 445.92,98.56 446.58,98.68 C447.24,98.81 447.90,98.93 448.56,99.05 C449.22,99.18 449.89,99.30 450.55,99.42 C451.21,99.54 451.87,99.66 452.53,99.78 C453.19,99.90 453.85,100.02 454.51,100.14 C455.17,100.26 455.83,100.38 456.49,100.49 C457.15,100.61 457.81,100.73 458.47,100.84 C459.13,100.96 459.79,101.07 460.44,101.18 C461.10,101.30 461.76,101.41 462.42,101.52 C463.08,101.63 463.74,101.74 464.40,101.85 C465.06,101.96 465.72,102.07 466.37,102.18 C467.03,102.28 467.69,102.39 468.35,102.50 C469.01,102.60 469.67,102.71 470.33,102.81 C470.99,102.91 471.65,103.02 472.30,103.12 C472.96,103.22 473.62,103.32 474.28,103.42 C474.94,103.52 475.60,103.62 476.26,103.72 C476.92,103.82 477.58,103.92 478.24,104.01 C478.90,104.11 479.56,104.20 480.22,104.30 C480.88,104.39 481.54,104.49 482.20,104.58 C482.86,104.67 483.52,104.76 484.18,104.85 C484.84,104.94 485.50,105.03 486.16,105.12 C486.82,105.21 487.48,105.30 488.14,105.38 C488.80,105.47 489.47,105.56 490.13,105.64 C490.79,105.72 491.45,105.81 492.12,105.89 C492.78,105.97 493.44,106.05 494.10,106.13 C494.77,106.21 495.43,106.29 496.10,106.37 C496.76,106.45 497.42,106.53 498.09,106.60 C498.75,106.68 499.42,106.75 500.08,106.83 C500.75,106.90 501.42,106.98 502.08,107.05 C502.75,107.12 503.41,107.19 504.08,107.26 C504.75,107.33 505.42,107.40 506.09,107.46 C506.75,107.53 507.42,107.60 508.09,107.66 C508.76,107.73 509.43,107.79 510.10,107.86 C510.77,107.92 511.44,107.98 512.11,108.04 C512.79,108.10 513.46,108.16 514.13,108.22 C514.80,108.28 515.48,108.34 516.15,108.39 C516.82,108.45 517.50,108.50 518.17,108.56 C518.85,108.61 519.52,108.66 520.20,108.72 C520.88,108.77 521.55,108.82 522.23,108.87 C522.91,108.92 523.59,108.96 524.27,109.01 C524.95,109.06 525.63,109.10 526.31,109.15 C526.99,109.19 527.67,109.24 528.35,109.28 C529.03,109.32 530.06,109.38 530.40,109.40" fill="none" stroke="#55a868" stroke-width="1.0" stroke-linecap="round" stroke-linejoin="round"/>
<path d="M334.60,16.40 C334.95,16.47 335.99,16.66 336.67,16.82 C337.35,16.97 338.02,17.14 338.68,17.32 C339.35,17.50 340.00,17.70 340.65,17.91 C341.30,18.11 341.94,18.34 342.57,18.57 C343.20,18.81 343.83,19.06 344.44,19.32 C345.06,19.58 345.67,19.85 346.27,20.14 C346.87,20.42 347.47,20.72 348.06,21.03 C348.64,21.34 349.22,21.66 349.80,21.99 C350.37,22.32 350.94,22.66 351.50,23.01 C352.06,23.36 352.62,23.72 353.17,24.09 C353.72,24.46 354.26,24.84 354.80,25.23 C355.33,25.62 355.86,26.02 356.39,26.42 C356.91,26.83 357.43,27.24 357.95,27.67 C358.46,28.09 358.97,28.52 359.47,28.96 C359.98,29.40 360.47,29.84 360.97,30.29 C361.46,30.74 361.95,31.20 362.43,31.67 C362.92,32.13 363.40,32.60 363.87,33.08 C364.35,33.56 364.82,34.04 365.28,34.53 C365.75,35.02 366.21,35.51 366.67,36.00 C367.13,36.50 367.59,37.00 368.04,37.51 C368.49,38.01 368.94,38.52 369.38,39.04 C369.82,39.55 370.27,40.07 370.70,40.59 C371.14,41.10 371.58,41.63 372.01,42.15 C372.44,42.68 372.87,43.21 373.30,43.74 C373.72,44.27 374.15,44.80 374.57,45.33 C374.99,45.87 375.41,46.41 375.83,46.94 C376.25,47.48 376.66,48.03 377.08,48.57 C377.49,49.11 377.90,49.66 378.31,50.20 C378.72,50.75 379.13,51.30 379.54,51.84 C379.95,52.39 380.35,52.94 380.76,53.49 C381.16,54.04 381.57,54.60 381.97,55.15 C382.38,55.70 382.78,56.26 383.18,56.81 C383.58,57.36 383.98,57.92 384.39,58.47 C384.79,59.02 385.19,59.58 385.59,60.13 C385.99,60.69 386.39,61.24 386.80,61.80 C387.20,62.35 387.60,62.90 388.00,63.46 C388.41,64.01 388.81,64.56 389.21,65.11 C389.62,65.67 390.02,66.22 390.43,66.77 C390.83,67.31 391.24,67.86 391.65,68.41 C392.06,68.96 392.47,69.50 392.88,70.05 C393.29,70.59 393.70,71.13 394.12,71.68 C394.53,72.22 394.95,72.76 395.37,73.29 C395.78,73.83 396.20,74.37 396.63,74.90 C397.05,75.43 397.48,75.96 397.90,76.49 C398.33,77.02 398.76,77.54 399.20,78.07 C399.63,78.59 400.07,79.11 400.50,79.63 C400.94,80.15 401.39,80.66 401.83,81.17 C402.28,81.68 402.73,82.19 403.18,82.70 C403.63,83.20 404.09,83.70 404.55,84.20 C405.01,84.70 405.48,85.19 405.94,85.68 C406.41,86.17 406.88,86.66 407.36,87.14 C407.84,87.63 408.32,88.11 408.80,88.58 C409.29,89.06 409.77,89.53 410.27,90.00 C410.76,90.46 411.25,90.93 411.75,91.38 C412.25,91.84 412.75,92.30 413.26,92.75 C413.77,93.20 414.28,93.65 414.79,94.09 C415.30,94.53 415.82,94.97 416.34,95.40 C416.86,95.84 417.39,96.26 417.91,96.69 C418.44,97.11 418.97,97.53 419.51,97.95 C420.04,98.36 420.58,98.77 421.12,99.18 C421.66,99.59 422.20,99.99 422.75,100.38 C423.30,100.78 423.85,101.17 424.40,101.56 C424.96,101.94 425.51,102.33 426.07,102.70 C426.63,103.08 427.20,103.45 427.76,103.82 C428.33,104.18 428.90,104.55 429.47,104.90 C430.04,105.26 430.61,105.61 431.19,105.95 C431.77,106.30 432.35,106.64 432.93,106.97 C433.51,107.31 434.10,107.64 434.69,107.96 C435.27,108.29 435.87,108.61 436.46,108.92 C437.05,109.23 437.65,109.54 438.25,109.84 C438.85,110.14 439.45,110.44 440.05,110.73 C440.65,111.02 441.26,111.30 441.87,111.58 C442.48,111.86 443.09,112.13 443.70,112.40 C444.31,112.67 444.93,112.93 445.54,113.19 C446.16,113.44 446.78,113.69 447.40,113.94 C448.02,114.18 448.65,114.42 449.27,114.66 C449.90,114.90 450.53,115.13 451.16,115.35 C451.79,115.58 452.42,115.80 453.05,116.01 C453.69,116.23 454.32,116.44 454.96,116.64 C455.60,116.85 456.24,117.05 456.88,117.24 C457.52,117.44 458.17,117.63 458.81,117.82 C459.45,118.00 460.10,118.18 460.75,118.36 C461.40,118.54 462.05,118.71 462.70,118.88 C463.35,119.05 464.00,119.21 464.66,119.38 C465.31,119.54 465.97,119.69 466.62,119.84 C467.28,120.00 467.94,120.14 468.60,120.29 C469.26,120.43 469.92,120.57 470.58,120.71 C471.25,120.85 471.91,120.98 472.57,121.11 C473.24,121.24 473.91,121.36 474.57,121.48 C475.24,121.61 475.91,121.72 476.58,121.84 C477.25,121.95 477.92,122.07 478.59,122.17 C479.26,122.28 479.93,122.39 480.60,122.49 C481.28,122.59 481.95,122.69 482.63,122.78 C483.30,122.88 483.98,122.97 484.65,123.06 C485.33,123.15 486.01,123.24 486.69,123.32 C487.36,123.41 488.04,123.49 488.72,123.56 C489.40,123.64 490.08,123.72 490.76,123.79 C491.44,123.86 492.12,123.94 492.80,124.00 C493.48,124.07 494.16,124.14 494.85,124.20 C495.53,124.26 496.21,124.33 496.89,124.38 C497.57,124.44 498.26,124.50 498.94,124.56 C499.62,124.61 500.31,124.66 500.99,124.71 C501.67,124.76 502.36,124.81 503.04,124.86 C503.72,124.91 504.41,124.95 505.09,125.00 C505.78,125.04 506.46,125.08 507.14,125.12 C507.83,125.16 508.51,125.20 509.19,125.24 C509.88,125.28 510.56,125.31 511.24,125.35 C511.93,125.38 512.61,125.42 513.29,125.45 C513.97,125.48 514.66,125.51 515.34,125.54 C516.02,125.57 516.70,125.60 517.38,125.63 C518.06,125.66 518.74,125.69 519.42,125.71 C520.10,125.74 520.78,125.77 521.46,125.79 C522.14,125.82 522.82,125.84 523.50,125.87 C524.17,125.89 524.85,125.91 525.53,125.94 C526.20,125.96 526.88,125.98 527.55,126.00 C528.23,126.03 528.90,126.05 529.57,126.07 C530.25,126.09 530.92,126.11 531.59,126.13 C532.26,126.16 533.27,126.19 533.60,126.20" fill="none" stroke="#c44e52" stroke-width="1.0" stroke-linecap="round" stroke-linejoin="round"/>
<path d="M325.2,10.4 V131.4 H543.4" fill="none" stroke="#808080" stroke-width="0.62"/>
<path d="M329.12,131.4 v1.4 M334.60,131.4 v1.4 M340.08,131.4 v1.4 M345.56,131.4 v1.4 M351.04,131.4 v1.4 M356.52,131.4 v1.4 M362.00,131.4 v1.4 M367.48,131.4 v1.4 M372.96,131.4 v1.4 M378.44,131.4 v1.4 M383.92,131.4 v1.4 M389.40,131.4 v1.4 M394.88,131.4 v1.4 M400.36,131.4 v1.4 M405.84,131.4 v1.4 M411.32,131.4 v1.4 M416.80,131.4 v1.4 M422.28,131.4 v1.4 M427.76,131.4 v1.4 M433.24,131.4 v1.4 M438.72,131.4 v1.4 M444.20,131.4 v1.4 M449.68,131.4 v1.4 M455.16,131.4 v1.4 M460.64,131.4 v1.4 M466.12,131.4 v1.4 M471.60,131.4 v1.4 M477.08,131.4 v1.4 M482.56,131.4 v1.4 M488.04,131.4 v1.4 M493.52,131.4 v1.4 M499.00,131.4 v1.4 M504.48,131.4 v1.4 M509.96,131.4 v1.4 M515.44,131.4 v1.4 M520.92,131.4 v1.4 M526.40,131.4 v1.4 M531.88,131.4 v1.4 M537.36,131.4 v1.4 M542.84,131.4 v1.4 M325.2,130.61 h-1.4 M325.2,127.79 h-1.4 M325.2,124.96 h-1.4 M325.2,122.14 h-1.4 M325.2,119.31 h-1.4 M325.2,116.48 h-1.4 M325.2,113.66 h-1.4 M325.2,110.83 h-1.4 M325.2,108.01 h-1.4 M325.2,105.18 h-1.4 M325.2,102.35 h-1.4 M325.2,99.53 h-1.4 M325.2,96.70 h-1.4 M325.2,93.88 h-1.4 M325.2,91.05 h-1.4 M325.2,88.22 h-1.4 M325.2,85.40 h-1.4 M325.2,82.57 h-1.4 M325.2,79.75 h-1.4 M325.2,76.92 h-1.4 M325.2,74.09 h-1.4 M325.2,71.27 h-1.4 M325.2,68.44 h-1.4 M325.2,65.62 h-1.4 M325.2,62.79 h-1.4 M325.2,59.96 h-1.4 M325.2,57.14 h-1.4 M325.2,54.31 h-1.4 M325.2,51.49 h-1.4 M325.2,48.66 h-1.4 M325.2,45.83 h-1.4 M325.2,43.01 h-1.4 M325.2,40.18 h-1.4 M325.2,37.36 h-1.4 M325.2,34.53 h-1.4 M325.2,31.70 h-1.4 M325.2,28.88 h-1.4 M325.2,26.05 h-1.4 M325.2,23.23 h-1.4 M325.2,20.40 h-1.4 M325.2,17.57 h-1.4 M325.2,14.75 h-1.4 M325.2,11.92 h-1.4" stroke="#8c8c8c" stroke-width="0.32" fill="none"/>
<text x="334.60" y="141.30" text-anchor="middle" font-size="6.25" fill="#262626">0</text>
<text x="362.00" y="141.30" text-anchor="middle" font-size="6.25" fill="#262626">500</text>
<text x="389.40" y="141.30" text-anchor="middle" font-size="6.25" fill="#262626">1000</text>
<text x="416.80" y="141.30" text-anchor="middle" font-size="6.25" fill="#262626">1500</text>
<text x="444.20" y="141.30" text-anchor="middle" font-size="6.25" fill="#262626">2000</text>
<text x="471.60" y="141.30" text-anchor="middle" font-size="6.25" fill="#262626">2500</text>
<text x="499.00" y="141.30" text-anchor="middle" font-size="6.25" fill="#262626">3000</text>
<text x="526.40" y="141.30" text-anchor="middle" font-size="6.25" fill="#262626">3500</text>
<text x="320.20" y="22.60" text-anchor="end" font-size="6.25" fill="#262626">20.0</text>
<text x="320.20" y="36.73" text-anchor="end" font-size="6.25" fill="#262626">17.5</text>
<text x="320.20" y="50.86" text-anchor="end" font-size="6.25" fill="#262626">15.0</text>
<text x="320.20" y="64.99" text-anchor="end" font-size="6.25" fill="#262626">12.5</text>
<text x="320.20" y="79.12" text-anchor="end" font-size="6.25" fill="#262626">10.0</text>
<text x="320.20" y="93.25" text-anchor="end" font-size="6.25" fill="#262626">7.5</text>
<text x="320.20" y="107.38" text-anchor="end" font-size="6.25" fill="#262626">5.0</text>
<text x="320.20" y="121.51" text-anchor="end" font-size="6.25" fill="#262626">2.5</text>
<path d="M334.60,131.4 v2.6 M362.00,131.4 v2.6 M389.40,131.4 v2.6 M416.80,131.4 v2.6 M444.20,131.4 v2.6 M471.60,131.4 v2.6 M499.00,131.4 v2.6 M526.40,131.4 v2.6 M325.2,20.40 h-2.6 M325.2,34.53 h-2.6 M325.2,48.66 h-2.6 M325.2,62.79 h-2.6 M325.2,76.92 h-2.6 M325.2,91.05 h-2.6 M325.2,105.18 h-2.6 M325.2,119.31 h-2.6" stroke="#808080" stroke-width="0.42" fill="none"/>
<text x="434.30" y="151" text-anchor="middle" class="lab" font-size="9.1" fill="#262626">Time (sec)</text>
<text transform="translate(302.9,70.90) rotate(-90)" text-anchor="middle" class="lab" font-size="9.1" fill="#262626">LAGB length (mm)</text>
<rect x="415.6" y="13.6" width="125.2" height="35.9" rx="1" ry="1" fill="#ffffff" fill-opacity="0.97" stroke="#cccccc" stroke-width="0.5"/>
<line x1="417.40" y1="18.20" x2="429.00" y2="18.20" stroke="#4c72b0" stroke-width="1.0"/>
<text x="433.20" y="20.00" class="leg" font-size="5.52" fill="#262626">Exp. subgrain size distribution - <tspan font-style="italic">γ</tspan><tspan font-size="3.75" dy="1.1">b</tspan></text>
<line x1="417.40" y1="26.90" x2="429.00" y2="26.90" stroke="#dd8452" stroke-width="1.0"/>
<text x="433.20" y="28.70" class="leg" font-size="5.52" fill="#262626">Exp. subgrain size distribution - <tspan font-style="italic">γ</tspan><tspan font-size="3.75" dy="1.1">b</tspan><tspan dy="-1.1">, </tspan><tspan font-style="italic">M</tspan><tspan font-size="3.75" dy="1.1">b</tspan></text>
<line x1="417.40" y1="35.60" x2="429.00" y2="35.60" stroke="#55a868" stroke-width="1.0"/>
<text x="433.20" y="37.40" class="leg" font-size="5.52" fill="#262626">Homogeneous subgrain size - <tspan font-style="italic">γ</tspan><tspan font-size="3.75" dy="1.1">b</tspan></text>
<line x1="417.40" y1="44.30" x2="429.00" y2="44.30" stroke="#c44e52" stroke-width="1.0"/>
<text x="433.20" y="46.10" class="leg" font-size="5.52" fill="#262626">Homogeneous subgrain size - <tspan font-style="italic">γ</tspan><tspan font-size="3.75" dy="1.1">b</tspan><tspan dy="-1.1">, </tspan><tspan font-style="italic">M</tspan><tspan font-size="3.75" dy="1.1">b</tspan></text>
<text x="419" y="182" text-anchor="middle" font-family="'Liberation Serif', serif" font-weight="bold" font-size="12" fill="#111" class="cap">(b)</text>
<line x1="45.40" y1="201" x2="45.40" y2="322.1" stroke="#f8f8f8" stroke-width="0.5"/>
<line x1="72.77" y1="201" x2="72.77" y2="322.1" stroke="#f8f8f8" stroke-width="0.5"/>
<line x1="100.14" y1="201" x2="100.14" y2="322.1" stroke="#f8f8f8" stroke-width="0.5"/>
<line x1="127.51" y1="201" x2="127.51" y2="322.1" stroke="#f8f8f8" stroke-width="0.5"/>
<line x1="154.88" y1="201" x2="154.88" y2="322.1" stroke="#f8f8f8" stroke-width="0.5"/>
<line x1="182.25" y1="201" x2="182.25" y2="322.1" stroke="#f8f8f8" stroke-width="0.5"/>
<line x1="209.62" y1="201" x2="209.62" y2="322.1" stroke="#f8f8f8" stroke-width="0.5"/>
<line x1="236.99" y1="201" x2="236.99" y2="322.1" stroke="#f8f8f8" stroke-width="0.5"/>
<line x1="35.4" y1="204.40" x2="254.4" y2="204.40" stroke="#f8f8f8" stroke-width="0.5"/>
<line x1="35.4" y1="220.20" x2="254.4" y2="220.20" stroke="#f8f8f8" stroke-width="0.5"/>
<line x1="35.4" y1="236.00" x2="254.4" y2="236.00" stroke="#f8f8f8" stroke-width="0.5"/>
<line x1="35.4" y1="251.80" x2="254.4" y2="251.80" stroke="#f8f8f8" stroke-width="0.5"/>
<line x1="35.4" y1="267.60" x2="254.4" y2="267.60" stroke="#f8f8f8" stroke-width="0.5"/>
<line x1="35.4" y1="283.40" x2="254.4" y2="283.40" stroke="#f8f8f8" stroke-width="0.5"/>
<line x1="35.4" y1="299.20" x2="254.4" y2="299.20" stroke="#f8f8f8" stroke-width="0.5"/>
<line x1="35.4" y1="315.00" x2="254.4" y2="315.00" stroke="#f8f8f8" stroke-width="0.5"/>
<path d="M45.40,239.60 C45.40,239.94 45.39,240.94 45.41,241.62 C45.43,242.29 45.47,242.96 45.53,243.63 C45.58,244.31 45.66,244.98 45.75,245.65 C45.84,246.32 45.94,246.99 46.07,247.66 C46.19,248.32 46.33,248.99 46.49,249.65 C46.64,250.31 46.81,250.98 47.00,251.63 C47.18,252.29 47.39,252.94 47.60,253.59 C47.82,254.24 48.05,254.89 48.29,255.53 C48.54,256.17 48.80,256.81 49.07,257.44 C49.34,258.08 49.63,258.70 49.93,259.33 C50.23,259.95 50.54,260.56 50.87,261.17 C51.20,261.78 51.53,262.38 51.88,262.98 C52.24,263.57 52.60,264.16 52.97,264.74 C53.35,265.32 53.73,265.90 54.13,266.46 C54.53,267.02 54.94,267.58 55.36,268.13 C55.78,268.67 56.21,269.21 56.65,269.74 C57.09,270.27 57.54,270.79 58.00,271.29 C58.46,271.80 58.93,272.30 59.41,272.78 C59.89,273.27 60.38,273.74 60.88,274.21 C61.37,274.67 61.88,275.12 62.39,275.56 C62.91,276.00 63.43,276.43 63.96,276.84 C64.49,277.26 65.03,277.66 65.57,278.05 C66.12,278.44 66.67,278.81 67.23,279.18 C67.79,279.54 68.35,279.89 68.93,280.23 C69.50,280.57 70.07,280.90 70.66,281.21 C71.24,281.52 71.83,281.83 72.43,282.12 C73.02,282.41 73.62,282.69 74.22,282.96 C74.83,283.23 75.44,283.49 76.05,283.75 C76.66,284.00 77.28,284.24 77.90,284.48 C78.52,284.71 79.15,284.94 79.78,285.16 C80.40,285.38 81.04,285.60 81.67,285.81 C82.30,286.02 82.94,286.22 83.58,286.42 C84.22,286.62 84.86,286.81 85.50,287.00 C86.14,287.20 86.79,287.39 87.43,287.57 C88.08,287.76 88.72,287.94 89.37,288.13 C90.02,288.31 90.66,288.50 91.31,288.68 C91.96,288.86 92.61,289.04 93.26,289.22 C93.91,289.41 94.56,289.59 95.21,289.77 C95.86,289.95 96.51,290.13 97.16,290.30 C97.81,290.48 98.46,290.66 99.12,290.84 C99.77,291.02 100.42,291.19 101.08,291.37 C101.73,291.54 102.38,291.72 103.04,291.89 C103.69,292.07 104.35,292.24 105.00,292.41 C105.66,292.59 106.31,292.76 106.97,292.93 C107.63,293.10 108.28,293.27 108.94,293.44 C109.60,293.61 110.25,293.78 110.91,293.95 C111.57,294.11 112.23,294.28 112.89,294.45 C113.55,294.61 114.20,294.78 114.86,294.94 C115.52,295.11 116.18,295.27 116.84,295.43 C117.51,295.59 118.17,295.76 118.83,295.92 C119.49,296.08 120.15,296.24 120.81,296.40 C121.47,296.56 122.14,296.71 122.80,296.87 C123.46,297.03 124.13,297.18 124.79,297.34 C125.45,297.49 126.12,297.65 126.78,297.80 C127.44,297.95 128.11,298.11 128.77,298.26 C129.44,298.41 130.10,298.56 130.77,298.71 C131.43,298.86 132.10,299.00 132.77,299.15 C133.43,299.30 134.10,299.44 134.76,299.59 C135.43,299.73 136.10,299.88 136.77,300.02 C137.43,300.16 138.10,300.31 138.77,300.45 C139.44,300.59 140.10,300.73 140.77,300.86 C141.44,301.00 142.11,301.14 142.78,301.28 C143.45,301.41 144.11,301.55 144.78,301.68 C145.45,301.81 146.12,301.95 146.79,302.08 C147.46,302.21 148.13,302.34 148.80,302.47 C149.47,302.60 150.14,302.72 150.81,302.85 C151.48,302.98 152.15,303.10 152.82,303.23 C153.49,303.35 154.17,303.47 154.84,303.59 C155.51,303.72 156.18,303.84 156.85,303.96 C157.52,304.07 158.19,304.19 158.87,304.31 C159.54,304.42 160.21,304.54 160.88,304.65 C161.55,304.77 162.23,304.88 162.90,304.99 C163.57,305.10 164.24,305.21 164.92,305.32 C165.59,305.43 166.26,305.54 166.93,305.64 C167.61,305.75 168.28,305.86 168.95,305.96 C169.62,306.07 170.30,306.17 170.97,306.27 C171.64,306.37 172.32,306.48 172.99,306.58 C173.66,306.68 174.34,306.78 175.01,306.88 C175.68,306.98 176.36,307.07 177.03,307.17 C177.70,307.27 178.38,307.37 179.05,307.46 C179.72,307.56 180.40,307.65 181.07,307.75 C181.74,307.84 182.42,307.94 183.09,308.03 C183.77,308.12 184.44,308.22 185.11,308.31 C185.79,308.40 186.46,308.49 187.13,308.59 C187.81,308.68 188.48,308.77 189.15,308.86 C189.83,308.95 190.50,309.04 191.17,309.13 C191.85,309.22 192.52,309.31 193.19,309.40 C193.87,309.49 194.54,309.58 195.21,309.67 C195.89,309.76 196.56,309.85 197.23,309.94 C197.90,310.03 198.58,310.12 199.25,310.20 C199.92,310.29 200.60,310.38 201.27,310.47 C201.94,310.56 202.61,310.65 203.29,310.74 C203.96,310.83 204.63,310.92 205.30,311.01 C205.97,311.10 206.65,311.19 207.32,311.28 C207.99,311.37 208.66,311.46 209.33,311.55 C210.00,311.64 210.68,311.73 211.35,311.82 C212.02,311.91 212.69,312.00 213.36,312.09 C214.03,312.18 214.70,312.28 215.37,312.37 C216.04,312.46 216.71,312.56 217.38,312.65 C218.05,312.74 218.72,312.84 219.39,312.93 C220.06,313.03 220.73,313.13 221.40,313.22 C222.07,313.32 222.74,313.42 223.41,313.51 C224.08,313.61 224.75,313.71 225.41,313.81 C226.08,313.91 226.75,314.01 227.42,314.11 C228.09,314.21 228.75,314.32 229.42,314.42 C230.09,314.52 230.76,314.63 231.42,314.73 C232.09,314.84 232.76,314.94 233.42,315.05 C234.09,315.16 234.75,315.27 235.42,315.38 C236.08,315.49 236.75,315.60 237.41,315.71 C238.08,315.82 238.74,315.94 239.41,316.05 C240.07,316.17 241.07,316.34 241.40,316.40" fill="none" stroke="#4c72b0" stroke-width="1.0" stroke-linecap="round" stroke-linejoin="round"/>
<path d="M45.40,239.60 C45.43,239.94 45.53,240.96 45.61,241.64 C45.70,242.32 45.80,242.99 45.92,243.66 C46.03,244.33 46.17,245.00 46.31,245.66 C46.46,246.33 46.62,246.99 46.79,247.64 C46.97,248.30 47.15,248.95 47.36,249.59 C47.56,250.24 47.77,250.88 48.00,251.52 C48.23,252.16 48.47,252.79 48.72,253.42 C48.98,254.04 49.24,254.67 49.52,255.28 C49.80,255.90 50.09,256.51 50.40,257.11 C50.70,257.72 51.01,258.31 51.34,258.91 C51.66,259.50 52.00,260.08 52.35,260.66 C52.70,261.24 53.06,261.81 53.43,262.38 C53.80,262.94 54.18,263.50 54.57,264.05 C54.96,264.60 55.36,265.14 55.77,265.68 C56.18,266.21 56.60,266.74 57.03,267.25 C57.46,267.77 57.90,268.28 58.34,268.78 C58.79,269.28 59.25,269.78 59.71,270.26 C60.18,270.74 60.65,271.22 61.13,271.68 C61.61,272.15 62.10,272.60 62.60,273.05 C63.09,273.50 63.60,273.93 64.11,274.36 C64.62,274.78 65.14,275.20 65.66,275.60 C66.19,276.01 66.72,276.40 67.26,276.79 C67.80,277.18 68.34,277.55 68.89,277.92 C69.44,278.28 70.00,278.64 70.56,278.99 C71.12,279.34 71.69,279.68 72.26,280.01 C72.83,280.35 73.41,280.67 73.99,280.99 C74.58,281.31 75.16,281.61 75.75,281.92 C76.34,282.22 76.94,282.52 77.54,282.81 C78.14,283.10 78.74,283.38 79.34,283.66 C79.95,283.93 80.56,284.21 81.17,284.47 C81.78,284.74 82.40,285.00 83.02,285.26 C83.63,285.51 84.25,285.76 84.88,286.01 C85.50,286.26 86.12,286.50 86.75,286.74 C87.37,286.98 88.00,287.22 88.63,287.45 C89.26,287.69 89.89,287.92 90.52,288.15 C91.15,288.37 91.78,288.60 92.42,288.82 C93.05,289.04 93.68,289.26 94.32,289.48 C94.95,289.70 95.59,289.91 96.22,290.13 C96.86,290.34 97.50,290.55 98.14,290.75 C98.77,290.96 99.41,291.17 100.05,291.37 C100.69,291.57 101.33,291.77 101.98,291.97 C102.62,292.17 103.26,292.36 103.90,292.56 C104.55,292.75 105.19,292.94 105.84,293.13 C106.48,293.32 107.13,293.50 107.77,293.69 C108.42,293.87 109.07,294.05 109.71,294.23 C110.36,294.41 111.01,294.59 111.66,294.77 C112.31,294.94 112.96,295.11 113.61,295.29 C114.26,295.46 114.91,295.63 115.57,295.79 C116.22,295.96 116.87,296.13 117.52,296.29 C118.18,296.45 118.83,296.61 119.49,296.77 C120.14,296.93 120.80,297.09 121.45,297.25 C122.11,297.40 122.77,297.56 123.42,297.71 C124.08,297.86 124.74,298.01 125.40,298.16 C126.05,298.31 126.71,298.45 127.37,298.60 C128.03,298.74 128.69,298.89 129.35,299.03 C130.01,299.17 130.67,299.31 131.34,299.45 C132.00,299.59 132.66,299.73 133.32,299.86 C133.99,300.00 134.65,300.13 135.31,300.26 C135.98,300.39 136.64,300.53 137.30,300.66 C137.97,300.78 138.63,300.91 139.30,301.04 C139.96,301.17 140.63,301.29 141.30,301.42 C141.96,301.54 142.63,301.66 143.29,301.78 C143.96,301.90 144.63,302.02 145.30,302.14 C145.96,302.26 146.63,302.38 147.30,302.50 C147.97,302.61 148.64,302.73 149.31,302.84 C149.97,302.96 150.64,303.07 151.31,303.18 C151.98,303.29 152.65,303.40 153.32,303.51 C153.99,303.62 154.66,303.73 155.33,303.84 C156.00,303.95 156.67,304.05 157.34,304.16 C158.02,304.27 158.69,304.37 159.36,304.47 C160.03,304.58 160.70,304.68 161.37,304.78 C162.04,304.89 162.72,304.99 163.39,305.09 C164.06,305.19 164.73,305.29 165.40,305.39 C166.08,305.49 166.75,305.59 167.42,305.68 C168.09,305.78 168.77,305.88 169.44,305.98 C170.11,306.07 170.78,306.17 171.46,306.26 C172.13,306.36 172.80,306.46 173.48,306.55 C174.15,306.64 174.82,306.74 175.50,306.83 C176.17,306.92 176.84,307.02 177.51,307.11 C178.19,307.20 178.86,307.29 179.53,307.39 C180.21,307.48 180.88,307.57 181.55,307.66 C182.23,307.75 182.90,307.84 183.57,307.93 C184.24,308.02 184.92,308.11 185.59,308.20 C186.26,308.29 186.93,308.38 187.61,308.47 C188.28,308.56 188.95,308.65 189.62,308.74 C190.30,308.83 190.97,308.92 191.64,309.01 C192.31,309.10 192.98,309.19 193.66,309.28 C194.33,309.37 195.00,309.46 195.67,309.54 C196.34,309.63 197.01,309.72 197.68,309.81 C198.35,309.90 199.02,309.99 199.69,310.08 C200.36,310.17 201.03,310.26 201.70,310.35 C202.37,310.44 203.04,310.53 203.71,310.62 C204.38,310.71 205.05,310.80 205.72,310.89 C206.39,310.98 207.06,311.08 207.72,311.17 C208.39,311.26 209.06,311.35 209.73,311.44 C210.40,311.54 211.06,311.63 211.73,311.72 C212.40,311.81 213.06,311.91 213.73,312.00 C214.39,312.10 215.06,312.19 215.72,312.29 C216.39,312.38 217.05,312.48 217.72,312.57 C218.38,312.67 219.05,312.77 219.71,312.87 C220.37,312.96 221.03,313.06 221.70,313.16 C222.36,313.26 223.02,313.36 223.68,313.46 C224.34,313.56 225.00,313.66 225.67,313.77 C226.33,313.87 226.99,313.97 227.64,314.07 C228.30,314.18 228.96,314.28 229.62,314.39 C230.28,314.49 230.94,314.60 231.59,314.71 C232.25,314.82 232.91,314.92 233.56,315.03 C234.22,315.14 234.87,315.25 235.53,315.37 C236.18,315.48 236.84,315.59 237.49,315.70 C238.14,315.82 238.79,315.93 239.45,316.05 C240.10,316.16 241.07,316.34 241.40,316.40" fill="none" stroke="#55a868" stroke-width="1.0" stroke-linecap="round" stroke-linejoin="round"/>
<path d="M45.40,239.60 C45.55,240.08 45.95,241.63 46.30,242.50 C46.65,243.37 47.10,244.30 47.50,244.80 C47.90,245.30 48.23,245.47 48.70,245.50 C49.17,245.53 49.76,245.21 50.30,244.99 C50.84,244.77 51.38,244.49 51.93,244.18 C52.48,243.87 53.03,243.51 53.59,243.14 C54.15,242.77 54.71,242.36 55.28,241.95 C55.85,241.54 56.42,241.10 56.99,240.68 C57.57,240.25 58.15,239.82 58.74,239.40 C59.32,238.99 59.92,238.58 60.51,238.20 C61.10,237.82 61.70,237.46 62.31,237.12 C62.91,236.78 63.52,236.46 64.13,236.16 C64.74,235.85 65.35,235.57 65.97,235.30 C66.58,235.03 67.21,234.77 67.83,234.53 C68.45,234.29 69.08,234.06 69.71,233.85 C70.34,233.63 70.97,233.43 71.61,233.23 C72.24,233.03 72.88,232.85 73.52,232.67 C74.16,232.49 74.80,232.33 75.45,232.16 C76.09,232.00 76.74,231.84 77.39,231.69 C78.04,231.54 78.69,231.40 79.34,231.26 C79.99,231.13 80.65,231.00 81.30,230.88 C81.96,230.76 82.62,230.65 83.28,230.55 C83.94,230.45 84.60,230.36 85.26,230.28 C85.92,230.20 86.59,230.12 87.25,230.06 C87.92,230.00 88.58,229.95 89.25,229.91 C89.92,229.87 90.59,229.84 91.26,229.82 C91.93,229.81 92.60,229.80 93.27,229.80 C93.94,229.80 94.61,229.81 95.29,229.82 C95.96,229.84 96.64,229.86 97.31,229.88 C97.99,229.91 98.66,229.94 99.34,229.97 C100.02,230.00 100.69,230.03 101.37,230.07 C102.05,230.10 102.73,230.13 103.40,230.16 C104.08,230.19 104.76,230.22 105.44,230.25 C106.12,230.27 106.80,230.29 107.48,230.31 C108.15,230.32 108.83,230.33 109.51,230.33 C110.19,230.33 110.87,230.33 111.55,230.31 C112.23,230.30 112.91,230.28 113.58,230.26 C114.26,230.24 114.94,230.21 115.62,230.19 C116.29,230.17 116.97,230.15 117.65,230.13 C118.32,230.12 119.00,230.11 119.68,230.11 C120.35,230.10 121.02,230.11 121.70,230.13 C122.37,230.14 123.04,230.17 123.72,230.20 C124.39,230.23 125.06,230.28 125.73,230.33 C126.40,230.38 127.07,230.43 127.74,230.50 C128.41,230.56 129.08,230.64 129.75,230.72 C130.42,230.80 131.09,230.88 131.75,230.98 C132.42,231.07 133.09,231.17 133.75,231.28 C134.42,231.38 135.08,231.50 135.75,231.62 C136.41,231.73 137.08,231.86 137.74,231.99 C138.40,232.12 139.07,232.26 139.73,232.40 C140.39,232.54 141.05,232.68 141.71,232.83 C142.38,232.98 143.04,233.14 143.70,233.30 C144.36,233.46 145.02,233.62 145.68,233.79 C146.34,233.96 147.00,234.13 147.65,234.30 C148.31,234.48 148.97,234.66 149.63,234.84 C150.29,235.02 150.94,235.20 151.60,235.39 C152.26,235.58 152.91,235.76 153.57,235.96 C154.22,236.15 154.88,236.34 155.53,236.54 C156.19,236.73 156.84,236.93 157.50,237.13 C158.15,237.33 158.81,237.53 159.46,237.73 C160.11,237.93 160.77,238.13 161.42,238.33 C162.07,238.53 162.73,238.74 163.38,238.94 C164.03,239.14 164.68,239.35 165.34,239.55 C165.99,239.75 166.64,239.96 167.29,240.16 C167.94,240.36 168.59,240.56 169.24,240.76 C169.89,240.96 170.54,241.16 171.19,241.36 C171.84,241.55 172.49,241.75 173.14,241.94 C173.79,242.14 174.44,242.33 175.09,242.52 C175.74,242.71 176.39,242.89 177.04,243.08 C177.69,243.26 178.34,243.44 178.99,243.62 C179.64,243.80 180.28,243.98 180.93,244.16 C181.58,244.33 182.23,244.50 182.88,244.67 C183.52,244.84 184.17,245.01 184.82,245.18 C185.47,245.35 186.12,245.51 186.76,245.68 C187.41,245.84 188.06,246.00 188.71,246.16 C189.35,246.32 190.00,246.48 190.65,246.64 C191.30,246.80 191.94,246.96 192.59,247.11 C193.24,247.27 193.89,247.43 194.53,247.58 C195.18,247.73 195.83,247.89 196.48,248.04 C197.12,248.19 197.77,248.35 198.42,248.50 C199.07,248.65 199.71,248.80 200.36,248.95 C201.01,249.10 201.66,249.25 202.30,249.41 C202.95,249.56 203.60,249.71 204.25,249.86 C204.89,250.01 205.54,250.16 206.19,250.31 C206.84,250.46 207.49,250.62 208.14,250.77 C208.78,250.92 209.43,251.07 210.08,251.23 C210.73,251.38 211.38,251.54 212.03,251.69 C212.68,251.85 213.32,252.01 213.97,252.16 C214.62,252.32 215.27,252.48 215.92,252.64 C216.57,252.80 217.22,252.96 217.87,253.13 C218.52,253.29 219.17,253.45 219.82,253.62 C220.47,253.79 221.12,253.95 221.77,254.12 C222.42,254.29 223.08,254.47 223.73,254.64 C224.38,254.81 225.03,254.99 225.68,255.17 C226.34,255.35 226.99,255.53 227.64,255.71 C228.29,255.90 228.95,256.08 229.60,256.27 C230.25,256.46 230.91,256.65 231.56,256.84 C232.21,257.04 232.87,257.24 233.52,257.44 C234.18,257.64 234.83,257.84 235.49,258.05 C236.15,258.25 236.80,258.46 237.46,258.68 C238.11,258.89 238.77,259.11 239.43,259.33 C240.09,259.55 241.07,259.89 241.40,260.00" fill="none" stroke="#dd8452" stroke-width="1.0" stroke-linecap="round" stroke-linejoin="round"/>
<path d="M45.40,239.60 C45.51,239.97 45.76,241.17 46.05,241.81 C46.34,242.46 46.72,243.00 47.14,243.47 C47.56,243.94 48.06,244.31 48.59,244.63 C49.12,244.94 49.71,245.17 50.31,245.34 C50.92,245.51 51.57,245.61 52.22,245.66 C52.88,245.71 53.57,245.70 54.24,245.65 C54.92,245.60 55.61,245.50 56.28,245.36 C56.96,245.22 57.63,245.04 58.29,244.84 C58.95,244.63 59.60,244.39 60.25,244.12 C60.90,243.86 61.54,243.56 62.17,243.25 C62.80,242.94 63.43,242.61 64.05,242.27 C64.67,241.93 65.28,241.57 65.89,241.20 C66.50,240.84 67.10,240.46 67.69,240.07 C68.29,239.69 68.88,239.30 69.46,238.89 C70.04,238.49 70.62,238.08 71.19,237.66 C71.76,237.24 72.32,236.82 72.88,236.39 C73.44,235.95 73.99,235.51 74.53,235.07 C75.08,234.63 75.62,234.17 76.15,233.72 C76.69,233.26 77.22,232.80 77.74,232.34 C78.27,231.87 78.79,231.40 79.31,230.93 C79.82,230.46 80.34,229.98 80.85,229.50 C81.36,229.02 81.86,228.54 82.37,228.06 C82.88,227.58 83.38,227.09 83.88,226.61 C84.38,226.12 84.88,225.63 85.38,225.15 C85.88,224.66 86.38,224.18 86.88,223.69 C87.38,223.21 87.88,222.72 88.38,222.24 C88.88,221.76 89.38,221.28 89.88,220.80 C90.39,220.33 90.89,219.85 91.40,219.38 C91.90,218.91 92.41,218.44 92.93,217.98 C93.44,217.52 93.96,217.06 94.48,216.60 C95.00,216.15 95.52,215.70 96.05,215.26 C96.58,214.82 97.11,214.38 97.65,213.95 C98.19,213.53 98.74,213.10 99.29,212.69 C99.84,212.28 100.40,211.87 100.96,211.48 C101.53,211.08 102.10,210.69 102.68,210.32 C103.26,209.95 103.84,209.60 104.44,209.26 C105.04,208.93 105.64,208.61 106.26,208.32 C106.87,208.03 107.49,207.76 108.13,207.52 C108.76,207.28 109.41,207.06 110.06,206.89 C110.72,206.71 111.38,206.56 112.06,206.45 C112.74,206.34 113.43,206.27 114.13,206.24 C114.83,206.21 115.55,206.22 116.28,206.28 C117.00,206.34 117.81,206.18 118.50,206.60 C119.19,207.02 119.76,208.59 120.40,208.80 C121.04,209.01 121.68,208.09 122.32,207.87 C122.96,207.65 123.60,207.54 124.24,207.47 C124.87,207.41 125.51,207.43 126.15,207.48 C126.78,207.54 127.41,207.66 128.05,207.80 C128.68,207.93 129.31,208.11 129.94,208.29 C130.57,208.47 131.20,208.67 131.83,208.88 C132.46,209.08 133.09,209.30 133.71,209.52 C134.34,209.75 134.96,209.98 135.59,210.22 C136.21,210.46 136.84,210.71 137.46,210.96 C138.08,211.21 138.71,211.48 139.33,211.74 C139.95,212.01 140.57,212.28 141.19,212.55 C141.81,212.83 142.43,213.11 143.05,213.39 C143.67,213.68 144.28,213.97 144.90,214.26 C145.52,214.55 146.13,214.85 146.75,215.15 C147.37,215.45 147.98,215.75 148.60,216.06 C149.21,216.36 149.83,216.67 150.44,216.98 C151.05,217.29 151.67,217.61 152.28,217.92 C152.89,218.23 153.51,218.55 154.12,218.87 C154.73,219.19 155.34,219.51 155.95,219.83 C156.57,220.15 157.18,220.47 157.79,220.79 C158.40,221.11 159.01,221.43 159.62,221.75 C160.23,222.07 160.84,222.40 161.45,222.72 C162.06,223.04 162.67,223.36 163.28,223.68 C163.89,223.99 164.50,224.31 165.11,224.63 C165.72,224.94 166.33,225.26 166.94,225.57 C167.56,225.88 168.17,226.19 168.78,226.50 C169.39,226.81 170.00,227.11 170.61,227.41 C171.22,227.72 171.83,228.01 172.44,228.31 C173.05,228.61 173.66,228.90 174.27,229.19 C174.88,229.48 175.49,229.77 176.11,230.06 C176.72,230.35 177.33,230.63 177.94,230.91 C178.55,231.20 179.16,231.48 179.77,231.76 C180.39,232.04 181.00,232.31 181.61,232.59 C182.22,232.87 182.84,233.14 183.45,233.42 C184.06,233.69 184.67,233.97 185.29,234.24 C185.90,234.51 186.51,234.79 187.12,235.06 C187.74,235.33 188.35,235.60 188.96,235.87 C189.58,236.15 190.19,236.42 190.80,236.69 C191.42,236.96 192.03,237.23 192.65,237.51 C193.26,237.78 193.87,238.05 194.49,238.33 C195.10,238.60 195.72,238.87 196.33,239.15 C196.94,239.43 197.56,239.70 198.17,239.98 C198.79,240.26 199.40,240.54 200.02,240.82 C200.63,241.10 201.25,241.38 201.87,241.67 C202.48,241.95 203.10,242.24 203.71,242.53 C204.33,242.82 204.94,243.11 205.56,243.40 C206.18,243.69 206.79,243.99 207.41,244.29 C208.02,244.58 208.64,244.88 209.26,245.18 C209.87,245.48 210.49,245.79 211.11,246.09 C211.73,246.39 212.34,246.70 212.96,247.00 C213.58,247.31 214.20,247.61 214.81,247.92 C215.43,248.23 216.05,248.53 216.67,248.84 C217.28,249.15 217.90,249.45 218.52,249.76 C219.14,250.07 219.76,250.37 220.38,250.68 C221.00,250.98 221.62,251.29 222.23,251.59 C222.85,251.89 223.47,252.20 224.09,252.50 C224.71,252.80 225.33,253.10 225.95,253.39 C226.57,253.69 227.19,253.99 227.81,254.28 C228.43,254.57 229.05,254.87 229.67,255.15 C230.29,255.44 230.91,255.73 231.53,256.01 C232.15,256.30 232.78,256.58 233.40,256.85 C234.02,257.13 234.64,257.40 235.26,257.67 C235.88,257.94 236.50,258.21 237.13,258.47 C237.75,258.73 238.37,258.99 238.99,259.25 C239.62,259.50 240.24,259.75 240.86,259.99 C241.48,260.24 242.11,260.48 242.73,260.71 C243.35,260.95 244.29,261.29 244.60,261.40" fill="none" stroke="#c44e52" stroke-width="1.0" stroke-linecap="round" stroke-linejoin="round"/>
<path d="M35.4,201 V322.1 H254.4" fill="none" stroke="#808080" stroke-width="0.62"/>
<path d="M39.93,322.1 v1.4 M45.40,322.1 v1.4 M50.87,322.1 v1.4 M56.35,322.1 v1.4 M61.82,322.1 v1.4 M67.30,322.1 v1.4 M72.77,322.1 v1.4 M78.24,322.1 v1.4 M83.72,322.1 v1.4 M89.19,322.1 v1.4 M94.67,322.1 v1.4 M100.14,322.1 v1.4 M105.61,322.1 v1.4 M111.09,322.1 v1.4 M116.56,322.1 v1.4 M122.04,322.1 v1.4 M127.51,322.1 v1.4 M132.98,322.1 v1.4 M138.46,322.1 v1.4 M143.93,322.1 v1.4 M149.41,322.1 v1.4 M154.88,322.1 v1.4 M160.35,322.1 v1.4 M165.83,322.1 v1.4 M171.30,322.1 v1.4 M176.78,322.1 v1.4 M182.25,322.1 v1.4 M187.72,322.1 v1.4 M193.20,322.1 v1.4 M198.67,322.1 v1.4 M204.15,322.1 v1.4 M209.62,322.1 v1.4 M215.09,322.1 v1.4 M220.57,322.1 v1.4 M226.04,322.1 v1.4 M231.52,322.1 v1.4 M236.99,322.1 v1.4 M242.46,322.1 v1.4 M247.94,322.1 v1.4 M253.41,322.1 v1.4 M35.4,321.32 h-1.4 M35.4,318.16 h-1.4 M35.4,315.00 h-1.4 M35.4,311.84 h-1.4 M35.4,308.68 h-1.4 M35.4,305.52 h-1.4 M35.4,302.36 h-1.4 M35.4,299.20 h-1.4 M35.4,296.04 h-1.4 M35.4,292.88 h-1.4 M35.4,289.72 h-1.4 M35.4,286.56 h-1.4 M35.4,283.40 h-1.4 M35.4,280.24 h-1.4 M35.4,277.08 h-1.4 M35.4,273.92 h-1.4 M35.4,270.76 h-1.4 M35.4,267.60 h-1.4 M35.4,264.44 h-1.4 M35.4,261.28 h-1.4 M35.4,258.12 h-1.4 M35.4,254.96 h-1.4 M35.4,251.80 h-1.4 M35.4,248.64 h-1.4 M35.4,245.48 h-1.4 M35.4,242.32 h-1.4 M35.4,239.16 h-1.4 M35.4,236.00 h-1.4 M35.4,232.84 h-1.4 M35.4,229.68 h-1.4 M35.4,226.52 h-1.4 M35.4,223.36 h-1.4 M35.4,220.20 h-1.4 M35.4,217.04 h-1.4 M35.4,213.88 h-1.4 M35.4,210.72 h-1.4 M35.4,207.56 h-1.4 M35.4,204.40 h-1.4 M35.4,201.24 h-1.4" stroke="#8c8c8c" stroke-width="0.32" fill="none"/>
<text x="45.40" y="330.90" text-anchor="middle" font-size="6.25" fill="#262626">0</text>
<text x="72.77" y="330.90" text-anchor="middle" font-size="6.25" fill="#262626">500</text>
<text x="100.14" y="330.90" text-anchor="middle" font-size="6.25" fill="#262626">1000</text>
<text x="127.51" y="330.90" text-anchor="middle" font-size="6.25" fill="#262626">1500</text>
<text x="154.88" y="330.90" text-anchor="middle" font-size="6.25" fill="#262626">2000</text>
<text x="182.25" y="330.90" text-anchor="middle" font-size="6.25" fill="#262626">2500</text>
<text x="209.62" y="330.90" text-anchor="middle" font-size="6.25" fill="#262626">3000</text>
<text x="236.99" y="330.90" text-anchor="middle" font-size="6.25" fill="#262626">3500</text>
<text x="30.90" y="206.60" text-anchor="end" font-size="6.25" fill="#262626">4.50</text>
<text x="30.90" y="222.40" text-anchor="end" font-size="6.25" fill="#262626">4.25</text>
<text x="30.90" y="238.20" text-anchor="end" font-size="6.25" fill="#262626">4.00</text>
<text x="30.90" y="254.00" text-anchor="end" font-size="6.25" fill="#262626">3.75</text>
<text x="30.90" y="269.80" text-anchor="end" font-size="6.25" fill="#262626">3.50</text>
<text x="30.90" y="285.60" text-anchor="end" font-size="6.25" fill="#262626">3.25</text>
<text x="30.90" y="301.40" text-anchor="end" font-size="6.25" fill="#262626">3.00</text>
<text x="30.90" y="317.20" text-anchor="end" font-size="6.25" fill="#262626">2.75</text>
<path d="M45.40,322.1 v2.6 M72.77,322.1 v2.6 M100.14,322.1 v2.6 M127.51,322.1 v2.6 M154.88,322.1 v2.6 M182.25,322.1 v2.6 M209.62,322.1 v2.6 M236.99,322.1 v2.6 M35.4,204.40 h-2.6 M35.4,220.20 h-2.6 M35.4,236.00 h-2.6 M35.4,251.80 h-2.6 M35.4,267.60 h-2.6 M35.4,283.40 h-2.6 M35.4,299.20 h-2.6 M35.4,315.00 h-2.6" stroke="#808080" stroke-width="0.42" fill="none"/>
<text x="144.90" y="341.8" text-anchor="middle" class="lab" font-size="9.1" fill="#262626">Time (sec)</text>
<text transform="translate(12.9,261.55) rotate(-90)" text-anchor="middle" class="lab" font-size="9.1" fill="#262626">HAGB length (mm)</text>
<rect x="82.6" y="243.4" width="125.2" height="35.9" rx="1" ry="1" fill="#ffffff" fill-opacity="0.97" stroke="#cccccc" stroke-width="0.5"/>
<line x1="84.40" y1="248.00" x2="96.00" y2="248.00" stroke="#4c72b0" stroke-width="1.0"/>
<text x="100.20" y="249.80" class="leg" font-size="5.52" fill="#262626">Exp. subgrain size distribution - <tspan font-style="italic">γ</tspan><tspan font-size="3.75" dy="1.1">b</tspan></text>
<line x1="84.40" y1="256.70" x2="96.00" y2="256.70" stroke="#dd8452" stroke-width="1.0"/>
<text x="100.20" y="258.50" class="leg" font-size="5.52" fill="#262626">Exp. subgrain size distribution - <tspan font-style="italic">γ</tspan><tspan font-size="3.75" dy="1.1">b</tspan><tspan dy="-1.1">, </tspan><tspan font-style="italic">M</tspan><tspan font-size="3.75" dy="1.1">b</tspan></text>
<line x1="84.40" y1="265.40" x2="96.00" y2="265.40" stroke="#55a868" stroke-width="1.0"/>
<text x="100.20" y="267.20" class="leg" font-size="5.52" fill="#262626">Homogeneous subgrain size - <tspan font-style="italic">γ</tspan><tspan font-size="3.75" dy="1.1">b</tspan></text>
<line x1="84.40" y1="274.10" x2="96.00" y2="274.10" stroke="#c44e52" stroke-width="1.0"/>
<text x="100.20" y="275.90" class="leg" font-size="5.52" fill="#262626">Homogeneous subgrain size - <tspan font-style="italic">γ</tspan><tspan font-size="3.75" dy="1.1">b</tspan><tspan dy="-1.1">, </tspan><tspan font-style="italic">M</tspan><tspan font-size="3.75" dy="1.1">b</tspan></text>
<text x="130.5" y="372.6" text-anchor="middle" font-family="'Liberation Serif', serif" font-weight="bold" font-size="12" fill="#111" class="cap">(c)</text>
</svg>
</body></html>
